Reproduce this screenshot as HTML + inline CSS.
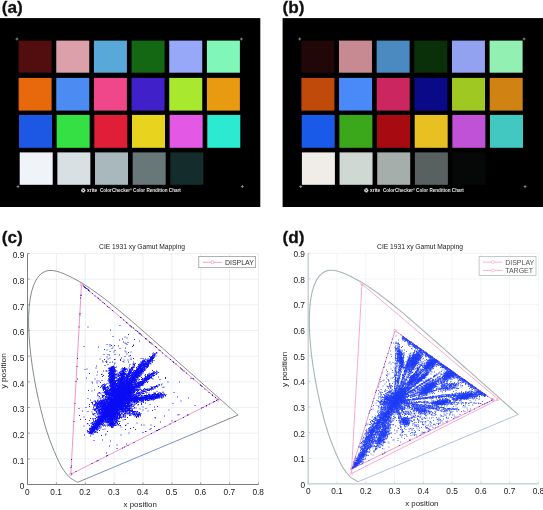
<!DOCTYPE html>
<html><head><meta charset="utf-8"><title>Figure</title>
<style>html,body{margin:0;padding:0;background:#fff}svg{display:block}</style></head>
<body>
<svg width="543" height="510" viewBox="0 0 543 510" font-family="Liberation Sans, sans-serif">
<rect width="543" height="510" fill="#fff"/>
<rect x="0" y="18.1" width="260.3" height="188.9" fill="#000"/>
<rect x="18.60" y="40.6" width="33" height="32.10" fill="#520e0e"/>
<rect x="56.26" y="40.6" width="33" height="32.10" fill="#dba0aa"/>
<rect x="93.92" y="40.6" width="33" height="32.10" fill="#58a8da"/>
<rect x="131.58" y="40.6" width="33" height="32.10" fill="#146814"/>
<rect x="169.24" y="40.6" width="33" height="32.10" fill="#98a8f8"/>
<rect x="206.90" y="40.6" width="33" height="32.10" fill="#80f6b8"/>
<rect x="18.60" y="77.9" width="33" height="32.70" fill="#e8680c"/>
<rect x="56.26" y="77.9" width="33" height="32.70" fill="#4c8cf2"/>
<rect x="93.92" y="77.9" width="33" height="32.70" fill="#f0468a"/>
<rect x="131.58" y="77.9" width="33" height="32.70" fill="#4020c8"/>
<rect x="169.24" y="77.9" width="33" height="32.70" fill="#a8e82e"/>
<rect x="206.90" y="77.9" width="33" height="32.70" fill="#e89a10"/>
<rect x="19.00" y="114.9" width="33" height="32.90" fill="#1c58e4"/>
<rect x="56.66" y="114.9" width="33" height="32.90" fill="#34e044"/>
<rect x="94.32" y="114.9" width="33" height="32.90" fill="#e01e38"/>
<rect x="131.98" y="114.9" width="33" height="32.90" fill="#e8d41e"/>
<rect x="169.64" y="114.9" width="33" height="32.90" fill="#e458e6"/>
<rect x="207.30" y="114.9" width="33" height="32.90" fill="#2cead2"/>
<rect x="19.70" y="152.4" width="33" height="32.40" fill="#f0f4f8"/>
<rect x="57.36" y="152.4" width="33" height="32.40" fill="#d8e0e4"/>
<rect x="95.02" y="152.4" width="33" height="32.40" fill="#a8b8bc"/>
<rect x="132.68" y="152.4" width="33" height="32.40" fill="#687878"/>
<rect x="170.34" y="152.4" width="33" height="32.40" fill="#152c2c"/>
<path d="M15.5 39h3M17.0 37.5v3" stroke="#a4b0b0" stroke-width="0.7"/>
<path d="M239.9 39h3M241.4 37.5v3" stroke="#a4b0b0" stroke-width="0.7"/>
<path d="M16.5 186.6h3M18.0 185.1v3" stroke="#a4b0b0" stroke-width="0.7"/>
<path d="M240.9 186.6h3M242.4 185.1v3" stroke="#a4b0b0" stroke-width="0.7"/>
<circle cx="83.3" cy="190.4" r="2.1" fill="#e8e8e8"/>
<path d="M82.1 189.2l2.4 2.4M84.5 189.2l-2.4 2.4" stroke="#000" stroke-width="0.6"/>
<text x="87.1" y="192.3" font-size="5" font-weight="bold" fill="#e6e6e6" textLength="10.2" lengthAdjust="spacingAndGlyphs">xrite</text>
<text x="99.9" y="192.3" font-size="5" font-weight="bold" fill="#e6e6e6" textLength="81" lengthAdjust="spacingAndGlyphs">ColorChecker<tspan font-size="2.6" dy="-1.8">®</tspan><tspan dy="1.8"> Color Rendition Chart</tspan></text>
<rect x="282.6" y="18.1" width="260.4" height="188.9" fill="#000"/>
<rect x="301.30" y="40.6" width="33" height="32.10" fill="#210707"/>
<rect x="338.96" y="40.6" width="33" height="32.10" fill="#c88a92"/>
<rect x="376.62" y="40.6" width="33" height="32.10" fill="#4a8ac0"/>
<rect x="414.28" y="40.6" width="33" height="32.10" fill="#0a300a"/>
<rect x="451.94" y="40.6" width="33" height="32.10" fill="#92a2f0"/>
<rect x="489.60" y="40.6" width="33" height="32.10" fill="#92f0b2"/>
<rect x="301.40" y="77.9" width="33" height="32.70" fill="#c04a0a"/>
<rect x="339.06" y="77.9" width="33" height="32.70" fill="#4a8af8"/>
<rect x="376.72" y="77.9" width="33" height="32.70" fill="#cc2660"/>
<rect x="414.38" y="77.9" width="33" height="32.70" fill="#0a0a88"/>
<rect x="452.04" y="77.9" width="33" height="32.70" fill="#a0c822"/>
<rect x="489.70" y="77.9" width="33" height="32.70" fill="#d08212"/>
<rect x="301.70" y="114.9" width="33" height="32.90" fill="#1a5ae8"/>
<rect x="339.36" y="114.9" width="33" height="32.90" fill="#3aa81a"/>
<rect x="377.02" y="114.9" width="33" height="32.90" fill="#a80a12"/>
<rect x="414.68" y="114.9" width="33" height="32.90" fill="#e8c022"/>
<rect x="452.34" y="114.9" width="33" height="32.90" fill="#c052d8"/>
<rect x="490.00" y="114.9" width="33" height="32.90" fill="#42c8c0"/>
<rect x="301.90" y="152.4" width="33" height="32.40" fill="#f0ece8"/>
<rect x="339.56" y="152.4" width="33" height="32.40" fill="#d0d8d4"/>
<rect x="377.22" y="152.4" width="33" height="32.40" fill="#a6aeac"/>
<rect x="414.88" y="152.4" width="33" height="32.40" fill="#586060"/>
<rect x="452.54" y="152.4" width="33" height="32.40" fill="#060707"/>
<path d="M298.2 39h3M299.7 37.5v3" stroke="#a4b0b0" stroke-width="0.7"/>
<path d="M522.6 39h3M524.1 37.5v3" stroke="#a4b0b0" stroke-width="0.7"/>
<path d="M299.2 186.6h3M300.7 185.1v3" stroke="#a4b0b0" stroke-width="0.7"/>
<path d="M523.6 186.6h3M525.1 185.1v3" stroke="#a4b0b0" stroke-width="0.7"/>
<circle cx="366.3" cy="190.4" r="2.1" fill="#e8e8e8"/>
<path d="M365.1 189.2l2.4 2.4M367.5 189.2l-2.4 2.4" stroke="#000" stroke-width="0.6"/>
<text x="370.1" y="192.3" font-size="5" font-weight="bold" fill="#e6e6e6" textLength="10.2" lengthAdjust="spacingAndGlyphs">xrite</text>
<text x="382.9" y="192.3" font-size="5" font-weight="bold" fill="#e6e6e6" textLength="81" lengthAdjust="spacingAndGlyphs">ColorChecker<tspan font-size="2.6" dy="-1.8">®</tspan><tspan dy="1.8"> Color Rendition Chart</tspan></text>
<text x="1.8" y="12.5" font-size="17.2" font-weight="bold" fill="#111" stroke="#111" stroke-width="0.3">(a)</text>
<text x="282.5" y="12.5" font-size="17.2" font-weight="bold" fill="#111" stroke="#111" stroke-width="0.3">(b)</text>
<text x="1.8" y="243.0" font-size="17.2" font-weight="bold" fill="#111" stroke="#111" stroke-width="0.3">(c)</text>
<text x="282.5" y="243.0" font-size="17.2" font-weight="bold" fill="#111" stroke="#111" stroke-width="0.3">(d)</text>
<path d="M56.38 253.5V484.5" stroke="#e8ebf3" stroke-width="0.8"/>
<path d="M85.25 253.5V484.5" stroke="#e8ebf3" stroke-width="0.8"/>
<path d="M114.12 253.5V484.5" stroke="#e8ebf3" stroke-width="0.8"/>
<path d="M143.00 253.5V484.5" stroke="#e8ebf3" stroke-width="0.8"/>
<path d="M171.88 253.5V484.5" stroke="#e8ebf3" stroke-width="0.8"/>
<path d="M200.75 253.5V484.5" stroke="#e8ebf3" stroke-width="0.8"/>
<path d="M229.62 253.5V484.5" stroke="#e8ebf3" stroke-width="0.8"/>
<path d="M258.50 253.5V484.5" stroke="#e8ebf3" stroke-width="0.8"/>
<path d="M27.5 458.83H258.5" stroke="#e8ebf3" stroke-width="0.8"/>
<path d="M27.5 433.17H258.5" stroke="#e8ebf3" stroke-width="0.8"/>
<path d="M27.5 407.50H258.5" stroke="#e8ebf3" stroke-width="0.8"/>
<path d="M27.5 381.83H258.5" stroke="#e8ebf3" stroke-width="0.8"/>
<path d="M27.5 356.17H258.5" stroke="#e8ebf3" stroke-width="0.8"/>
<path d="M27.5 330.50H258.5" stroke="#e8ebf3" stroke-width="0.8"/>
<path d="M27.5 304.83H258.5" stroke="#e8ebf3" stroke-width="0.8"/>
<path d="M27.5 279.17H258.5" stroke="#e8ebf3" stroke-width="0.8"/>
<path d="M27.5 253.50H258.5" stroke="#e8ebf3" stroke-width="0.8"/>
<path d="M27.5 253.5V484.5H258.5" fill="none" stroke="#7a8084" stroke-width="1.0"/>
<path d="M27.50 484.5v-2.2" stroke="#7a8084" stroke-width="0.7"/>
<path d="M56.38 484.5v-2.2" stroke="#7a8084" stroke-width="0.7"/>
<path d="M85.25 484.5v-2.2" stroke="#7a8084" stroke-width="0.7"/>
<path d="M114.12 484.5v-2.2" stroke="#7a8084" stroke-width="0.7"/>
<path d="M143.00 484.5v-2.2" stroke="#7a8084" stroke-width="0.7"/>
<path d="M171.88 484.5v-2.2" stroke="#7a8084" stroke-width="0.7"/>
<path d="M200.75 484.5v-2.2" stroke="#7a8084" stroke-width="0.7"/>
<path d="M229.62 484.5v-2.2" stroke="#7a8084" stroke-width="0.7"/>
<path d="M258.50 484.5v-2.2" stroke="#7a8084" stroke-width="0.7"/>
<path d="M27.5 484.50h2.2" stroke="#7a8084" stroke-width="0.7"/>
<path d="M27.5 458.83h2.2" stroke="#7a8084" stroke-width="0.7"/>
<path d="M27.5 433.17h2.2" stroke="#7a8084" stroke-width="0.7"/>
<path d="M27.5 407.50h2.2" stroke="#7a8084" stroke-width="0.7"/>
<path d="M27.5 381.83h2.2" stroke="#7a8084" stroke-width="0.7"/>
<path d="M27.5 356.17h2.2" stroke="#7a8084" stroke-width="0.7"/>
<path d="M27.5 330.50h2.2" stroke="#7a8084" stroke-width="0.7"/>
<path d="M27.5 304.83h2.2" stroke="#7a8084" stroke-width="0.7"/>
<path d="M27.5 279.17h2.2" stroke="#7a8084" stroke-width="0.7"/>
<path d="M27.5 253.50h2.2" stroke="#7a8084" stroke-width="0.7"/>
<polyline points="78.32,482.06 78.22,482.07 78.13,482.08 78.03,482.09 77.93,482.09 77.84,482.09 77.74,482.09 77.65,482.08 77.55,482.07 77.45,482.06 77.35,482.05 77.22,482.03 77.05,481.98 76.84,481.90 76.58,481.77 76.27,481.63 75.92,481.45 75.49,481.22 74.97,480.91 74.33,480.48 73.58,479.99 72.72,479.50 71.75,478.98 70.58,478.21 69.08,476.88 67.21,474.80 65.20,472.26 63.33,469.66 61.81,467.29 60.49,464.92 59.15,462.22 57.59,458.92 55.82,454.99 53.86,450.44 51.77,445.30 49.58,439.50 47.34,432.99 45.09,425.69 42.85,417.62 40.61,408.78 38.39,399.23 36.26,389.10 34.29,378.57 32.53,367.81 31.04,357.00 29.87,346.31 29.05,335.92 28.62,325.94 28.63,316.43 29.10,307.52 30.05,299.31 31.51,291.95 33.48,285.56 35.91,280.24 38.73,276.09 41.90,273.14 45.33,271.32 48.95,270.49 52.71,270.52 56.57,271.23 60.48,272.44 64.41,273.98 68.32,275.74 72.17,277.65 75.92,279.65 79.59,281.73 83.20,283.89 86.76,286.14 90.29,288.48 93.80,290.90 97.29,293.39 100.78,295.96 104.25,298.60 107.71,301.29 111.15,304.03 114.59,306.81 118.02,309.63 121.46,312.49 124.90,315.38 128.34,318.30 131.79,321.25 135.23,324.21 138.67,327.19 142.09,330.18 145.51,333.17 148.93,336.16 152.34,339.15 155.73,342.13 159.10,345.10 162.44,348.05 165.75,350.98 169.03,353.89 172.28,356.76 175.48,359.61 178.64,362.41 181.76,365.17 184.81,367.87 187.81,370.51 190.73,373.10 193.59,375.62 196.36,378.08 199.03,380.46 201.59,382.73 204.01,384.88 206.33,386.93 208.55,388.89 210.69,390.79 212.73,392.60 214.67,394.31 216.48,395.90 218.17,397.38 219.75,398.77 221.23,400.08 222.60,401.30 223.88,402.44 225.06,403.50 226.16,404.47 227.17,405.37 228.11,406.20 228.99,406.97 229.80,407.68 230.55,408.34 231.25,408.97 231.91,409.55 232.53,410.11 233.12,410.63 233.67,411.12 234.18,411.58 234.66,412.01 235.11,412.40 235.53,412.77 235.92,413.10 236.27,413.40 236.57,413.68 236.85,413.93 237.13,414.17 237.43,414.42 237.76,414.69 238.14,414.99" fill="none" stroke="#757e7c" stroke-width="0.9"/>
<defs><linearGradient id="pg" x1="0" y1="0" x2="1" y2="0"><stop offset="0" stop-color="#747c7c"/><stop offset="0.1" stop-color="#6a86cc"/><stop offset="0.55" stop-color="#6a86cc"/><stop offset="0.85" stop-color="#747c7c"/><stop offset="1" stop-color="#747c7c"/></linearGradient></defs>
<path d="M78.32 482.06L238.14 414.99" stroke="url(#pg)" stroke-width="0.9"/>
<polygon points="81.50,284.30 218.08,399.80 70.81,474.23" fill="none" stroke="#f58ab6" stroke-width="0.9"/>
<circle cx="81.50" cy="284.30" r="1.4" fill="none" stroke="#f58ab6" stroke-width="0.6"/>
<circle cx="218.08" cy="399.80" r="1.4" fill="none" stroke="#f58ab6" stroke-width="0.6"/>
<circle cx="70.81" cy="474.23" r="1.4" fill="none" stroke="#f58ab6" stroke-width="0.6"/>
<path transform="scale(.5)" d="m168 574h2m0 2h2m4 4h2m-2 1h2m11 11h2m4 4h2m-1 1h2m1 3h2m7 7h2m7 8h2m-60 15h2m80 5h2m3 5h2m4 5h2m-1 1h2m-16 5h2m20 2h2m-106 1h2m16 0h2m89 2h2m-48 4h2m49 1h2m1 2h2m1 3h2m0 1h2m9 10h2m-24 2h2m8 3h2m-25 3h2m42 0h2m0 1h2m0 2h2m-52 1h2m11 1h2m-49 2h2m-25 2h2m27 0h2m85 1h2m-64 1h2m-29 1h2m14 0h2m-28 3h2m102 0h2m-92 4h2m27 1h2m54 0h2m-8 1h2m5 0h2m-62 2h2m53 0h2m-103 1h2m6 0h2m12 0h2m77 0h2m-72 1h2m66 0h2m-4 1h2m-49 1h2m72 0h2m-84 1h2m47 0h2m3 0h3m1 0h2m-96 1h2m87 0h3m3 0h2m-10 1h3m3 0h3m-90 1h2m40 0h2m37 0h3m3 0h2m-154 1h2m110 0h2m13 0h2m2 0h2m18 0h2m-92 1h2m82 0h3m-94 1h2m18 0h3m30 0h2m28 0h2m7 0h2m2 0h2m34 0h2m-87 1h2m45 0h2m-16 1h2m4 0h5m5 0h2m1 0h2m-105 1h2m6 0h2m70 0h2m3 0h2m1 0h5m-12 1h6m3 0h2m1 0h5m43 0h2m-142 1h2m6 0h2m9 0h2m21 0h2m7 0h2m26 0h3m2 0h4m3 0h6m1 0h3m-94 1h2m5 0h2m62 0h3m9 0h2m-68 1h2m52 0h6m2 0h2m3 0h2m-15 1h2m4 0h7m1 0h2m-71 1h2m37 0h2m12 0h2m1 0h4m4 0h7m-84 1h2m50 0h3m9 0h5m1 0h3m1 0h2m1 0h6m-31 1h2m8 0h8m3 0h9m-18 1h9m1 0h2m3 0h4m-106 1h2m32 0h2m30 0h2m18 0h3m6 0h3m4 0h4m-145 1h2m72 0h2m46 0h4m1 0h5m3 0h9m-76 1h2m9 0h2m31 0h4m6 0h8m1 0h6m2 0h2m-72 1h4m3 0h2m32 0h3m6 0h2m4 0h3m5 0h3m4 0h3m-105 1h2m24 0h2m3 0h2m1 0h4m19 0h2m12 0h3m12 0h2m1 0h2m1 0h4m5 0h2m66 0h2m-145 1h5m6 0h2m13 0h2m28 0h6m1 0h2m2 0h2m2 0h3m-73 1h2m2 0h2m2 0h2m18 0h9m4 0h8m7 0h4m1 0h3m2 0h6m72 0h2m-195 1h2m52 0h3m2 0h2m15 0h2m2 0h2m10 0h2m9 0h6m3 0h5m3 0h2m-74 1h2m1 0h2m1 0h4m3 0h2m11 0h3m3 0h2m3 0h2m2 0h2m1 0h2m1 0h2m7 0h2m1 0h5m1 0h3m1 0h3m1 0h2m-74 1h4m2 0h3m18 0h4m12 0h2m2 0h2m1 0h7m4 0h6m19 0h2m-100 1h2m3 0h2m8 0h2m2 0h2m16 0h4m3 0h2m3 0h2m1 0h5m9 0h13m27 0h2m53 0h2m-150 1h2m1 0h2m1 0h2m1 0h3m13 0h4m3 0h2m4 0h6m3 0h2m2 0h2m1 0h13m21 0h2m-92 1h2m2 0h2m1 0h3m12 0h2m10 0h2m8 0h2m8 0h7m29 0h2m-90 1h8m2 0h2m7 0h2m6 0h4m7 0h5m1 0h3m2 0h3m1 0h11m27 0h2m4 0h2m-101 1h2m4 0h6m6 0h2m4 0h5m2 0h2m6 0h2m1 0h6m5 0h11m24 0h2m1 0h2m62 0h2m-196 1h2m38 0h2m1 0h5m1 0h2m4 0h2m5 0h13m2 0h2m3 0h2m4 0h2m2 0h2m3 0h2m1 0h2m3 0h2m17 0h2m3 0h2m-89 1h8m12 0h3m2 0h6m7 0h2m4 0h11m1 0h3m1 0h2m30 0h2m-112 1h2m14 0h14m8 0h11m1 0h3m1 0h2m1 0h2m3 0h4m2 0h5m1 0h3m16 0h2m2 0h5m-111 1h2m25 0h10m1 0h2m2 0h2m7 0h2m1 0h3m5 0h4m8 0h4m1 0h2m2 0h3m1 0h2m12 0h2m1 0h3m3 0h2m-87 1h2m2 0h7m8 0h10m5 0h2m3 0h2m1 0h2m2 0h2m2 0h5m2 0h4m10 0h2m3 0h7m2 0h7m-88 1h6m13 0h6m1 0h2m1 0h8m4 0h2m2 0h7m20 0h2m2 0h3m-97 1h2m14 0h8m1 0h2m6 0h2m3 0h5m1 0h2m3 0h7m3 0h6m1 0h2m1 0h2m15 0h3m3 0h4m5 0h2m-87 1h5m3 0h2m12 0h9m1 0h5m2 0h2m3 0h5m2 0h2m1 0h3m13 0h6m3 0h2m1 0h2m12 0h2m-98 1h2m2 0h3m1 0h2m1 0h2m9 0h5m5 0h2m6 0h7m2 0h2m11 0h2m5 0h2m2 0h4m1 0h2m2 0h2m-80 1h4m1 0h2m1 0h2m4 0h2m1 0h5m4 0h2m2 0h3m8 0h2m3 0h4m16 0h2m3 0h4m2 0h2m-84 1h2m1 0h9m8 0h11m3 0h4m1 0h4m3 0h5m15 0h2m1 0h9m1 0h2m85 0h2m-233 1h2m60 0h13m4 0h3m3 0h6m1 0h3m1 0h4m4 0h2m2 0h7m1 0h2m2 0h2m9 0h2m1 0h4m1 0h4m-79 1h2m1 0h5m1 0h2m7 0h7m1 0h3m7 0h3m5 0h3m4 0h3m11 0h2m2 0h9m-73 1h4m1 0h2m6 0h11m1 0h2m2 0h3m1 0h13m2 0h3m11 0h4m5 0h2m-93 1h2m10 0h2m1 0h7m1 0h5m1 0h2m2 0h2m2 0h4m3 0h5m1 0h3m2 0h5m1 0h3m1 0h5m12 0h2m-94 1h2m2 0h2m18 0h2m4 0h4m1 0h7m1 0h13m3 0h3m1 0h14m1 0h4m11 0h6m-75 1h2m2 0h2m1 0h3m2 0h4m3 0h2m3 0h4m1 0h4m3 0h8m3 0h2m6 0h2m5 0h7m1 0h2m3 0h2m1 0h2m-79 1h2m1 0h4m2 0h2m5 0h2m1 0h7m1 0h2m3 0h2m1 0h2m1 0h4m1 0h5m10 0h2m4 0h2m1 0h3m47 0h2m-118 1h5m3 0h5m5 0h9m1 0h3m6 0h5m1 0h9m3 0h5m2 0h2m1 0h3m3 0h2m2 0h2m-103 1h2m22 0h2m1 0h4m1 0h2m4 0h2m3 0h5m2 0h2m1 0h5m2 0h3m1 0h6m3 0h2m6 0h2m1 0h12m-76 1h2m6 0h2m1 0h2m2 0h10m2 0h11m1 0h6m1 0h5m5 0h2m4 0h2m2 0h4m-66 1h2m1 0h4m2 0h2m1 0h2m1 0h2m7 0h2m1 0h16m1 0h4m5 0h2m1 0h2m1 0h4m2 0h4m1 0h2m34 0h2m-120 1h4m15 0h6m7 0h7m2 0h3m1 0h2m2 0h4m1 0h9m1 0h5m1 0h3m4 0h4m-76 1h2m8 0h8m3 0h12m1 0h19m1 0h2m11 0h2m39 0h2m2 0h2m-121 1h3m2 0h2m9 0h2m1 0h2m1 0h4m2 0h2m1 0h5m3 0h2m1 0h5m1 0h15m5 0h6m1 0h4m3 0h2m114 0h2m-199 1h3m1 0h2m9 0h9m2 0h2m2 0h7m1 0h4m3 0h12m2 0h2m1 0h2m1 0h4m1 0h4m34 0h2m-118 1h2m8 0h2m6 0h2m9 0h4m1 0h3m4 0h4m3 0h17m1 0h7m2 0h7m23 0h2m7 0h4m89 0h2m-200 1h2m1 0h3m5 0h2m5 0h4m3 0h3m1 0h17m3 0h7m4 0h3m1 0h2m2 0h3m2 0h3m24 0h2m2 0h3m15 0h2m-129 1h2m3 0h3m1 0h2m1 0h2m8 0h10m2 0h3m2 0h21m1 0h2m1 0h11m2 0h2m23 0h2m4 0h2m-105 1h5m1 0h3m6 0h5m1 0h5m2 0h2m1 0h2m1 0h5m1 0h10m1 0h2m1 0h5m1 0h2m2 0h2m2 0h2m2 0h3m22 0h2m-99 1h2m2 0h3m4 0h2m5 0h7m2 0h13m1 0h16m1 0h2m1 0h2m20 0h2m12 0h3m-99 1h4m9 0h3m1 0h2m1 0h37m1 0h5m1 0h3m1 0h2m4 0h2m9 0h2m12 0h3m-102 1h2m1 0h4m1 0h2m4 0h5m1 0h6m1 0h9m1 0h7m1 0h3m1 0h16m3 0h2m3 0h2m5 0h2m2 0h2m1 0h3m2 0h4m-90 1h2m6 0h13m1 0h3m1 0h15m1 0h4m1 0h7m1 0h3m3 0h2m1 0h2m17 0h2m5 0h2m-98 1h2m5 0h2m3 0h4m1 0h23m2 0h13m1 0h9m4 0h2m8 0h2m7 0h4m-87 1h3m2 0h5m1 0h14m1 0h18m2 0h7m4 0h3m13 0h2m1 0h2m2 0h2m-85 1h4m7 0h2m1 0h26m2 0h2m1 0h12m3 0h3m-59 1h7m5 0h14m2 0h4m2 0h9m1 0h9m1 0h2m12 0h2m8 0h2m-94 1h2m5 0h2m1 0h9m2 0h3m1 0h5m1 0h6m1 0h4m1 0h23m4 0h2m7 0h3m13 0h2m24 0h2m4 0h2m90 0h2m-212 1h2m1 0h2m3 0h6m2 0h25m1 0h9m2 0h3m2 0h2m6 0h5m5 0h3m11 0h2m20 0h2m-122 1h2m9 0h6m3 0h7m2 0h37m10 0h4m8 0h2m19 0h4m15 0h2m-120 1h2m3 0h43m1 0h7m11 0h2m1 0h2m11 0h2m22 0h2m1 0h4m-110 1h7m1 0h8m3 0h27m1 0h2m1 0h2m2 0h3m9 0h2m23 0h5m1 0h2m2 0h2m3 0h4m5 0h2m1 0h2m-130 1h2m10 0h4m2 0h10m2 0h29m9 0h2m2 0h4m17 0h2m5 0h7m2 0h4m7 0h5m-124 1h2m1 0h2m8 0h2m1 0h11m1 0h33m1 0h2m3 0h2m3 0h4m2 0h2m5 0h7m2 0h2m7 0h2m7 0h4m1 0h2m7 0h2m-126 1h2m5 0h2m3 0h2m3 0h34m1 0h5m1 0h5m1 0h3m8 0h2m1 0h2m1 0h2m4 0h4m4 0h3m3 0h4m1 0h8m1 0h4m-115 1h2m5 0h2m3 0h9m1 0h21m3 0h3m3 0h5m1 0h3m1 0h2m7 0h2m6 0h2m2 0h2m2 0h15m7 0h2m4 0h2m-122 1h2m3 0h2m5 0h3m2 0h33m1 0h3m2 0h2m7 0h9m3 0h5m3 0h3m1 0h4m2 0h6m1 0h8m1 0h4m2 0h2m30 0h2m-143 1h2m1 0h7m5 0h26m1 0h4m4 0h2m1 0h4m3 0h2m4 0h4m2 0h9m4 0h2m3 0h5m2 0h4m8 0h3m105 0h2m-231 1h2m4 0h2m1 0h2m4 0h2m2 0h4m2 0h28m1 0h2m1 0h6m3 0h7m1 0h9m4 0h3m1 0h2m1 0h11m1 0h6m2 0h2m1 0h2m-105 1h6m2 0h33m1 0h14m1 0h2m1 0h2m1 0h7m3 0h10m2 0h6m7 0h2m-115 1h2m7 0h3m2 0h2m2 0h56m2 0h4m2 0h2m1 0h5m8 0h2m1 0h2m6 0h2m-102 1h4m1 0h7m2 0h2m1 0h30m2 0h6m1 0h2m2 0h6m1 0h2m1 0h2m3 0h2m4 0h7m5 0h2m3 0h2m126 0h2m-257 1h2m13 0h2m6 0h3m10 0h32m1 0h13m1 0h20m1 0h4m2 0h6m2 0h2m-111 1h2m9 0h2m1 0h2m1 0h5m2 0h2m2 0h2m1 0h4m1 0h28m1 0h14m1 0h2m2 0h3m2 0h3m3 0h4m6 0h4m134 0h2m-240 1h3m16 0h2m3 0h45m3 0h2m4 0h4m5 0h4m1 0h2m73 0h2m-176 1h2m9 0h2m4 0h2m1 0h2m3 0h5m1 0h2m1 0h23m1 0h2m1 0h12m2 0h2m2 0h8m11 0h2m-94 1h4m10 0h11m2 0h35m3 0h3m3 0h6m4 0h2m3 0h2m145 0h2m-246 1h2m7 0h2m6 0h2m1 0h4m1 0h2m1 0h2m3 0h44m9 0h2m1 0h2m-77 1h2m2 0h2m4 0h8m1 0h24m1 0h8m1 0h3m1 0h3m3 0h3m28 0h2m-143 1h2m33 0h2m5 0h8m1 0h3m1 0h6m1 0h8m4 0h18m2 0h4m2 0h12m10 0h2m9 0h2m61 0h2m-163 1h2m4 0h3m2 0h6m1 0h9m1 0h4m1 0h32m3 0h3m2 0h3m1 0h2m-85 1h2m7 0h4m2 0h4m1 0h3m5 0h6m4 0h25m1 0h4m1 0h3m5 0h4m5 0h2m10 0h2m4 0h2m-89 1h5m1 0h2m5 0h4m1 0h21m2 0h11m7 0h2m6 0h2m2 0h4m5 0h2m-89 1h2m3 0h3m5 0h2m3 0h2m1 0h34m1 0h15m130 0h2m-203 1h2m1 0h2m4 0h2m2 0h2m7 0h30m1 0h9m1 0h2m4 0h4m-83 1h2m13 0h2m1 0h2m1 0h5m2 0h5m1 0h31m1 0h5m2 0h8m6 0h2m47 0h2m-121 1h3m1 0h2m2 0h3m1 0h3m2 0h33m5 0h3m4 0h4m24 0h2m-95 1h3m8 0h2m2 0h2m1 0h32m1 0h2m1 0h2m2 0h2m1 0h2m13 0h2m135 0h2m-215 1h2m2 0h4m1 0h2m1 0h22m1 0h8m2 0h4m2 0h14m3 0h3m8 0h2m-116 1h2m30 0h2m2 0h3m6 0h27m2 0h3m3 0h11m3 0h10m6 0h2m22 0h2m-103 1h2m13 0h2m3 0h4m1 0h8m1 0h5m3 0h4m1 0h3m3 0h2m2 0h2m8 0h3m1 0h2m1 0h2m-81 1h2m9 0h2m1 0h2m1 0h2m2 0h10m3 0h28m1 0h4m1 0h2m1 0h3m-70 1h11m1 0h2m2 0h20m1 0h14m2 0h2m1 0h4m2 0h2m2 0h3m6 0h2m-68 1h2m4 0h2m1 0h5m1 0h15m1 0h5m1 0h4m5 0h2m3 0h3m1 0h10m1 0h2m38 0h2m-109 1h2m2 0h2m3 0h31m2 0h2m2 0h7m5 0h2m1 0h3m1 0h4m29 0h2m-105 1h2m3 0h2m2 0h2m1 0h2m1 0h18m1 0h5m1 0h4m3 0h2m4 0h3m5 0h2m4 0h2m3 0h7m3 0h2m-93 1h2m11 0h2m8 0h2m1 0h19m1 0h8m1 0h2m2 0h7m1 0h4m10 0h4m5 0h2m-83 1h2m4 0h9m1 0h15m1 0h11m2 0h2m12 0h2m14 0h2m8 0h3m-82 1h2m2 0h36m11 0h2m3 0h2m1 0h2m6 0h9m-77 1h2m1 0h4m1 0h6m1 0h7m1 0h15m2 0h3m8 0h5m2 0h2m4 0h2m5 0h2m3 0h2m2 0h2m2 0h2m-89 1h2m1 0h6m3 0h21m1 0h4m4 0h2m11 0h2m4 0h2m7 0h2m2 0h2m2 0h2m4 0h2m-94 1h2m13 0h19m1 0h12m1 0h8m4 0h2m11 0h2m5 0h2m6 0h7m-82 1h2m3 0h6m1 0h11m1 0h13m2 0h2m3 0h2m1 0h4m19 0h4m1 0h2m99 0h2m-173 1h11m1 0h3m2 0h6m2 0h3m2 0h3m1 0h3m33 0h2m-75 1h6m2 0h2m1 0h17m5 0h2m1 0h5m4 0h2m2 0h2m22 0h2m-79 1h4m1 0h9m1 0h22m4 0h2m1 0h2m2 0h3m24 0h2m2 0h2m-111 1h2m26 0h2m4 0h8m1 0h4m1 0h7m1 0h6m1 0h2m2 0h2m1 0h2m9 0h4m20 0h2m2 0h2m-86 1h2m2 0h3m4 0h13m2 0h6m1 0h5m2 0h3m3 0h2m2 0h2m1 0h2m-50 1h2m2 0h3m8 0h4m1 0h7m1 0h2m7 0h2m74 0h2m-132 1h2m3 0h2m10 0h8m3 0h5m1 0h7m2 0h3m3 0h2m1 0h2m2 0h4m-55 1h2m3 0h2m5 0h2m2 0h10m3 0h19m4 0h2m-79 1h2m32 0h6m2 0h7m3 0h4m1 0h2m2 0h5m3 0h4m16 0h2m-59 1h3m2 0h2m1 0h6m1 0h2m1 0h8m2 0h7m1 0h2m1 0h3m1 0h2m-47 1h3m4 0h6m1 0h3m3 0h2m1 0h2m2 0h5m2 0h2m5 0h2m1 0h2m-46 1h14m2 0h2m2 0h2m2 0h5m1 0h10m-83 1h2m38 0h2m1 0h5m1 0h11m2 0h7m4 0h7m2 0h2m2 0h2m2 0h2m-51 1h2m2 0h7m3 0h4m10 0h2m2 0h8m3 0h2m-41 1h9m2 0h4m7 0h5m1 0h8m2 0h2m1 0h2m-51 1h2m1 0h2m3 0h2m2 0h7m2 0h2m11 0h5m2 0h4m44 0h2m-94 1h2m6 0h12m5 0h2m12 0h8m27 0h2m-82 1h2m7 0h3m3 0h6m3 0h2m5 0h2m9 0h8m114 0h2m-155 1h2m2 0h11m2 0h3m11 0h2m1 0h2m1 0h5m8 0h2m-49 1h9m2 0h2m2 0h2m3 0h2m9 0h3m4 0h3m6 0h2m44 0h2m-106 1h2m7 0h3m2 0h2m1 0h3m9 0h2m11 0h2m2 0h2m1 0h3m9 0h2m-55 1h7m4 0h3m10 0h2m2 0h2m2 0h2m2 0h5m-44 1h2m2 0h8m2 0h3m25 0h2m-46 1h2m1 0h9m1 0h3m1 0h2m41 0h2m-59 1h7m2 0h2m29 0h2m40 0h2m-89 1h2m5 0h4m1 0h3m7 0h2m-23 1h15m2 0h2m-17 1h2m1 0h11m13 0h2m-30 1h2m1 0h6m1 0h2m2 0h2m8 0h2m43 0h2m18 0h2m45 0h2m-139 1h5m1 0h5m-17 1h2m5 0h6m-8 1h3m3 0h5m2 0h3m-19 1h3m1 0h2m3 0h4m1 0h2m98 0h2m-118 1h2m3 0h4m6 0h2m-12 1h5m7 0h2m-15 1h3m3 0h2m71 0h2m-82 1h2m3 0h2m1 0h2m-6 1h3m26 2h2m29 0h2m-23 12h2m11 8h2m-17 2h2m24 4h2m-13 1h2m-23 9h2m-2 6h2m-19 9h2m-46 22h2" stroke="#0a0cf4" stroke-opacity="0.9" stroke-width="2" fill="none"/>
<path transform="scale(.5)" d="m166 572h2m0 2h2m0 1h2m0 2h2m0 1h2m0 2h2m0 2h2m4 5h2m-25 3h2m-2 1h2m-3 5h2m43 9h2m7 8h2m8 8h2m-67 6h2m79 8h2m17 16h2m1 3h2m15 14h2m-25 1h2m24 1h2m-59 3h2m22 1h2m2 2h2m-11 2h2m45 0h3m-56 2h2m6 4h2m50 0h2m-51 2h2m0 1h2m-40 2h2m4 0h2m1 2h2m4 0h2m36 0h2m-32 1h2m-71 1h2m95 0h2m44 0h2m-104 6h2m19 2h2m88 0h2m-72 1h2m-32 1h2m30 1h2m8 0h2m49 2h2m10 0h2m-17 1h2m-7 1h2m3 0h3m-94 2h2m86 0h5m-51 1h2m45 0h3m-5 1h3m3 0h2m-10 1h2m-5 1h5m-4 1h5m-64 1h2m58 0h5m-6 1h6m-108 1h2m89 0h2m3 0h3m2 0h2m2 0h2m-66 1h2m45 0h2m10 0h2m1 0h3m-58 1h2m45 0h2m1 0h6m-63 1h2m43 0h3m6 0h8m1 0h2m-10 1h2m1 0h5m-92 1h2m32 0h2m40 0h2m1 0h2m3 0h8m-37 1h2m12 0h7m3 0h2m5 0h2m5 0h2m-21 1h2m6 0h2m1 0h3m47 0h2m-67 1h4m4 0h8m1 0h2m-30 1h2m14 0h4m10 0h2m-37 1h4m9 0h2m1 0h8m3 0h4m5 0h2m48 0h2m-94 1h2m6 0h2m7 0h2m2 0h2m5 0h4m2 0h2m1 0h2m-18 1h2m7 0h4m3 0h2m-89 1h2m57 0h2m9 0h3m5 0h2m4 0h2m-30 1h2m9 0h2m1 0h5m3 0h2m-66 1h5m49 0h7m3 0h2m1 0h4m-28 1h4m6 0h5m2 0h3m1 0h2m-68 1h7m1 0h2m17 0h2m13 0h4m12 0h2m4 0h3m1 0h2m-73 1h2m1 0h4m19 0h2m3 0h2m6 0h2m3 0h2m9 0h2m1 0h2m3 0h6m1 0h3m-74 1h2m3 0h8m16 0h4m1 0h2m9 0h3m13 0h2m2 0h3m-112 1h2m44 0h2m2 0h4m1 0h2m18 0h2m14 0h2m8 0h4m6 0h5m-69 1h6m2 0h2m17 0h6m5 0h3m3 0h2m13 0h3m3 0h2m-69 1h13m10 0h2m3 0h4m22 0h6m1 0h6m79 0h2m-149 1h2m1 0h7m1 0h2m1 0h2m14 0h2m9 0h2m14 0h4m1 0h7m2 0h2m-78 1h3m5 0h2m1 0h3m7 0h2m9 0h6m8 0h6m5 0h4m1 0h2m5 0h7m-68 1h2m1 0h9m9 0h7m29 0h5m4 0h2m-94 1h2m25 0h8m11 0h2m3 0h3m11 0h3m6 0h6m1 0h6m2 0h4m20 0h2m3 0h4m-98 1h7m1 0h2m17 0h4m10 0h4m2 0h13m1 0h5m21 0h2m-87 1h7m11 0h2m1 0h4m1 0h3m7 0h7m2 0h2m3 0h8m1 0h5m1 0h2m12 0h2m5 0h2m3 0h2m-97 1h2m4 0h5m1 0h2m10 0h11m4 0h5m8 0h9m1 0h2m17 0h2m4 0h7m3 0h2m-94 1h3m1 0h3m1 0h3m5 0h3m1 0h2m1 0h5m6 0h5m3 0h6m4 0h3m1 0h7m17 0h2m2 0h4m-106 1h2m13 0h8m2 0h2m1 0h4m1 0h2m2 0h2m1 0h3m1 0h5m6 0h2m2 0h2m2 0h11m13 0h2m8 0h3m2 0h2m4 0h2m-92 1h2m17 0h2m2 0h4m7 0h3m6 0h13m5 0h2m11 0h2m3 0h2m1 0h4m-101 1h2m9 0h3m1 0h6m2 0h2m2 0h2m2 0h4m2 0h2m9 0h2m3 0h5m4 0h5m1 0h7m14 0h4m-82 1h4m1 0h8m6 0h2m2 0h9m2 0h2m2 0h3m5 0h9m1 0h2m1 0h2m17 0h6m-85 1h2m3 0h2m2 0h3m7 0h3m4 0h8m3 0h6m3 0h14m1 0h4m13 0h3m1 0h2m2 0h2m-86 1h2m2 0h3m2 0h3m1 0h4m7 0h6m6 0h5m1 0h2m5 0h4m2 0h4m14 0h2m1 0h2m5 0h2m-85 1h2m1 0h2m1 0h2m1 0h2m2 0h2m5 0h2m1 0h3m1 0h3m1 0h7m4 0h2m1 0h7m1 0h5m21 0h6m27 0h2m-160 1h2m45 0h8m1 0h2m9 0h3m6 0h4m1 0h5m4 0h2m1 0h2m2 0h3m1 0h4m15 0h4m2 0h3m-79 1h2m3 0h3m6 0h2m1 0h6m1 0h2m6 0h2m5 0h2m1 0h5m15 0h2m2 0h4m2 0h6m3 0h2m25 0h2m49 0h2m-194 1h2m25 0h3m2 0h9m5 0h3m3 0h4m1 0h4m1 0h3m1 0h4m1 0h5m4 0h2m4 0h2m11 0h2m1 0h3m1 0h4m6 0h2m79 0h2m-169 1h5m17 0h4m2 0h4m1 0h3m4 0h2m1 0h8m1 0h2m5 0h2m2 0h2m5 0h2m2 0h2m1 0h2m21 0h2m-102 1h3m1 0h5m5 0h2m3 0h4m1 0h6m2 0h6m1 0h4m7 0h4m3 0h2m5 0h11m-74 1h8m5 0h5m2 0h5m4 0h2m1 0h2m5 0h5m1 0h5m19 0h5m-74 1h7m3 0h2m4 0h9m3 0h21m1 0h2m16 0h3m-140 1h2m67 0h7m14 0h6m1 0h7m1 0h4m2 0h2m4 0h3m8 0h4m1 0h5m-106 1h2m34 0h3m1 0h2m1 0h5m3 0h2m2 0h5m3 0h7m1 0h15m14 0h7m68 0h2m-160 1h2m20 0h8m8 0h4m2 0h3m4 0h8m2 0h7m2 0h2m6 0h4m5 0h2m-105 1h2m33 0h7m1 0h5m2 0h8m1 0h2m2 0h3m1 0h2m1 0h13m1 0h2m2 0h2m3 0h2m3 0h2m1 0h2m-63 1h6m9 0h3m1 0h4m1 0h2m1 0h5m2 0h5m7 0h3m1 0h6m1 0h7m-80 1h2m10 0h2m4 0h3m4 0h7m3 0h7m1 0h6m1 0h4m2 0h2m1 0h11m4 0h6m-82 1h2m3 0h2m8 0h6m1 0h7m2 0h5m1 0h10m1 0h5m4 0h2m6 0h2m3 0h7m1 0h2m31 0h2m-96 1h8m1 0h2m3 0h5m1 0h6m1 0h15m3 0h2m6 0h2m39 0h2m81 0h2m-193 1h2m8 0h3m1 0h5m2 0h8m2 0h14m1 0h4m10 0h16m27 0h2m-95 1h2m1 0h13m3 0h3m3 0h28m3 0h3m2 0h2m31 0h4m-115 1h2m2 0h2m1 0h2m10 0h2m1 0h6m2 0h7m1 0h8m1 0h2m2 0h8m1 0h3m1 0h5m2 0h6m28 0h2m3 0h3m-109 1h4m9 0h14m2 0h5m1 0h5m1 0h10m1 0h12m3 0h2m3 0h2m28 0h2m4 0h2m-110 1h4m1 0h2m1 0h2m7 0h7m5 0h30m1 0h4m1 0h2m3 0h2m26 0h2m19 0h2m-120 1h2m1 0h2m4 0h2m5 0h5m4 0h2m3 0h13m1 0h23m30 0h2m2 0h4m-104 1h3m4 0h2m3 0h4m2 0h2m2 0h24m1 0h8m1 0h5m30 0h2m-96 1h2m1 0h2m5 0h2m6 0h9m1 0h9m2 0h14m2 0h10m18 0h2m4 0h4m1 0h8m102 0h2m-202 1h2m7 0h4m1 0h6m1 0h7m3 0h16m1 0h11m3 0h3m3 0h2m11 0h4m-106 1h2m25 0h2m2 0h2m1 0h8m3 0h31m2 0h2m1 0h4m3 0h3m3 0h2m7 0h2m-117 1h2m32 0h9m6 0h7m3 0h2m3 0h27m1 0h2m2 0h2m1 0h3m4 0h2m1 0h2m9 0h4m-117 1h2m25 0h3m2 0h2m5 0h4m1 0h30m1 0h9m15 0h2m4 0h2m-77 1h3m3 0h2m1 0h2m1 0h10m1 0h18m1 0h6m5 0h2m6 0h2m8 0h7m22 0h2m-103 1h3m2 0h2m2 0h3m1 0h35m1 0h6m1 0h2m7 0h2m7 0h2m3 0h2m32 0h2m-115 1h2m1 0h8m1 0h2m1 0h19m1 0h6m1 0h14m4 0h2m8 0h2m63 0h2m-153 1h2m3 0h2m8 0h4m2 0h2m4 0h26m1 0h3m1 0h9m3 0h2m7 0h3m1 0h2m1 0h3m21 0h6m4 0h2m-106 1h6m1 0h4m3 0h2m1 0h3m1 0h30m1 0h3m6 0h3m1 0h4m3 0h4m27 0h2m3 0h4m-130 1h2m18 0h4m2 0h4m1 0h23m4 0h2m1 0h8m4 0h2m1 0h4m1 0h2m31 0h4m2 0h4m-108 1h9m1 0h2m3 0h2m1 0h4m1 0h13m2 0h10m4 0h2m3 0h2m11 0h2m14 0h4m1 0h2m1 0h4m2 0h8m1 0h4m1 0h3m-110 1h14m2 0h14m2 0h3m2 0h5m3 0h5m2 0h5m9 0h2m20 0h2m2 0h5m2 0h2m2 0h7m97 0h2m-231 1h2m7 0h5m3 0h2m3 0h2m3 0h26m1 0h5m1 0h2m2 0h3m3 0h4m4 0h2m13 0h4m2 0h2m4 0h3m1 0h2m6 0h7m8 0h2m95 0h2m-231 1h2m10 0h2m6 0h2m1 0h40m1 0h2m1 0h2m7 0h4m12 0h6m1 0h11m3 0h8m1 0h2m6 0h2m3 0h2m-134 1h2m4 0h2m7 0h2m3 0h2m1 0h18m1 0h11m1 0h2m1 0h2m1 0h5m5 0h2m5 0h2m13 0h7m1 0h5m3 0h14m-108 1h9m2 0h2m2 0h22m2 0h6m1 0h7m1 0h6m2 0h2m7 0h9m2 0h6m1 0h22m3 0h2m-124 1h2m7 0h2m2 0h6m2 0h6m1 0h14m1 0h3m3 0h4m3 0h3m2 0h7m1 0h3m1 0h4m3 0h4m1 0h4m4 0h6m1 0h2m3 0h8m113 0h2m-235 1h2m12 0h2m2 0h2m2 0h30m2 0h4m2 0h5m1 0h15m2 0h16m2 0h11m1 0h2m3 0h2m5 0h3m51 0h2m-203 1h2m36 0h45m2 0h11m2 0h4m1 0h11m1 0h10m6 0h2m1 0h4m-107 1h2m2 0h2m6 0h2m4 0h40m1 0h3m1 0h11m1 0h3m1 0h3m2 0h7m3 0h6m-97 1h2m1 0h5m1 0h29m1 0h3m1 0h8m2 0h3m3 0h2m1 0h5m1 0h6m1 0h2m1 0h2m3 0h2m9 0h2m2 0h2m-104 1h4m2 0h2m4 0h2m1 0h6m1 0h19m1 0h4m1 0h23m5 0h7m2 0h3m7 0h2m2 0h2m1 0h2m-105 1h3m1 0h2m3 0h4m3 0h30m2 0h10m1 0h12m4 0h3m9 0h2m4 0h2m-104 1h2m2 0h3m1 0h2m1 0h2m2 0h4m2 0h2m3 0h2m1 0h34m2 0h3m4 0h9m8 0h2m-95 1h2m9 0h3m1 0h2m2 0h2m1 0h4m2 0h22m1 0h10m1 0h4m6 0h2m3 0h4m3 0h4m4 0h2m144 0h2m-240 1h2m4 0h2m2 0h16m1 0h19m1 0h7m2 0h2m2 0h15m2 0h2m2 0h6m8 0h2m-103 1h2m6 0h2m2 0h5m1 0h2m4 0h2m4 0h23m1 0h6m1 0h5m1 0h2m1 0h2m2 0h2m15 0h2m9 0h2m-98 1h2m3 0h2m3 0h21m1 0h33m10 0h2m1 0h2m12 0h2m-94 1h2m3 0h3m1 0h6m4 0h5m1 0h33m1 0h8m15 0h2m-84 1h3m2 0h4m1 0h4m1 0h7m2 0h12m1 0h22m13 0h3m153 0h2m-232 1h2m5 0h2m5 0h3m2 0h6m2 0h37m2 0h3m4 0h2m6 0h2m28 0h2m-113 1h2m10 0h3m1 0h2m1 0h6m1 0h22m1 0h9m3 0h3m2 0h4m3 0h3m-77 1h4m2 0h2m4 0h2m1 0h43m1 0h4m1 0h2m5 0h6m148 0h2m-223 1h2m1 0h2m2 0h5m1 0h2m4 0h3m2 0h3m2 0h21m1 0h4m2 0h9m8 0h2m145 0h2m-221 1h2m1 0h2m6 0h6m1 0h42m2 0h2m1 0h2m1 0h2m2 0h2m-81 1h2m4 0h2m1 0h2m3 0h2m1 0h2m1 0h41m8 0h2m1 0h2m2 0h2m44 0h2m-139 1h2m19 0h2m1 0h2m1 0h2m4 0h3m1 0h7m2 0h5m1 0h22m5 0h4m-68 1h2m8 0h2m2 0h4m1 0h2m1 0h9m1 0h22m2 0h8m1 0h5m1 0h4m141 0h2m-212 1h2m8 0h2m2 0h3m1 0h5m1 0h21m3 0h2m1 0h5m1 0h4m2 0h2m-64 1h2m2 0h8m3 0h23m1 0h2m4 0h7m1 0h5m3 0h6m1 0h3m15 0h2m-94 1h4m7 0h4m2 0h8m2 0h4m3 0h22m8 0h2m2 0h2m1 0h2m49 0h2m-121 1h2m11 0h4m2 0h12m1 0h12m1 0h4m2 0h2m1 0h2m3 0h3m3 0h2m28 0h2m50 0h2m-151 1h2m6 0h2m4 0h2m5 0h21m1 0h6m4 0h2m1 0h4m7 0h6m3 0h2m-102 1h2m28 0h2m3 0h2m4 0h2m1 0h21m1 0h6m7 0h3m2 0h7m4 0h4m-88 1h2m14 0h2m5 0h2m3 0h23m1 0h2m4 0h3m1 0h2m2 0h2m3 0h2m2 0h2m1 0h2m7 0h5m1 0h4m-75 1h4m1 0h3m4 0h28m3 0h2m4 0h2m3 0h2m4 0h2m5 0h3m5 0h3m-80 1h2m5 0h6m1 0h31m18 0h3m-61 1h2m1 0h2m2 0h7m1 0h4m1 0h7m1 0h5m4 0h2m3 0h3m10 0h2m7 0h2m-81 1h2m1 0h3m6 0h2m7 0h9m1 0h6m2 0h5m2 0h6m1 0h2m2 0h3m4 0h2m6 0h3m1 0h2m2 0h2m1 0h2m-77 1h4m5 0h13m1 0h2m2 0h17m2 0h2m2 0h2m8 0h2m8 0h2m3 0h3m1 0h2m1 0h6m-96 1h2m17 0h10m2 0h14m5 0h6m25 0h4m4 0h2m3 0h2m76 0h2m-172 1h2m6 0h2m2 0h2m4 0h24m3 0h6m12 0h2m7 0h3m4 0h3m1 0h3m3 0h2m1 0h2m74 0h2m17 0h2m-218 1h2m41 0h9m2 0h21m7 0h2m4 0h2m10 0h2m1 0h2m7 0h2m4 0h2m1 0h2m-91 1h2m4 0h4m1 0h7m2 0h23m5 0h2m40 0h2m46 0h2m-134 1h6m1 0h12m1 0h2m1 0h13m2 0h2m2 0h2m29 0h2m4 0h2m-84 1h17m1 0h6m2 0h13m1 0h2m-40 1h6m1 0h9m1 0h5m5 0h5m3 0h5m2 0h5m12 0h2m16 0h2m35 0h2m55 0h2m-167 1h12m2 0h16m11 0h2m-55 1h3m3 0h2m2 0h12m4 0h4m1 0h5m1 0h4m3 0h4m-42 1h4m1 0h5m3 0h4m1 0h2m1 0h2m2 0h2m1 0h8m2 0h2m-65 1h2m23 0h11m3 0h17m2 0h5m17 0h2m-66 1h2m6 0h2m1 0h10m1 0h5m1 0h2m2 0h13m3 0h2m9 0h2m-69 1h2m10 0h2m2 0h5m2 0h7m1 0h2m8 0h7m1 0h2m3 0h2m-48 1h2m6 0h2m3 0h8m6 0h5m1 0h2m1 0h3m118 0h2m-150 1h10m1 0h3m7 0h11m3 0h4m2 0h2m1 0h2m108 0h3m-165 1h2m1 0h2m3 0h7m2 0h2m2 0h2m5 0h2m3 0h5m2 0h2m91 0h2m-138 1h2m5 0h3m1 0h5m2 0h2m5 0h2m1 0h2m1 0h4m1 0h8m4 0h2m-52 1h2m3 0h3m1 0h2m3 0h10m5 0h2m9 0h7m5 0h2m-62 1h2m12 0h6m1 0h4m1 0h4m14 0h3m1 0h11m1 0h2m2 0h2m-55 1h4m1 0h4m2 0h6m12 0h4m1 0h2m1 0h9m-47 1h2m1 0h2m1 0h7m1 0h2m1 0h3m14 0h2m1 0h4m10 0h2m-54 1h2m2 0h2m1 0h9m5 0h2m2 0h2m3 0h2m6 0h2m2 0h2m1 0h7m16 0h2m34 0h2m12 0h2m-112 1h3m1 0h4m17 0h2m1 0h10m1 0h2m8 0h2m8 0h2m-85 1h2m13 0h2m2 0h10m5 0h2m3 0h2m16 0h2m-42 1h3m2 0h4m1 0h2m25 0h3m84 0h2m19 0h2m-149 1h13m1 0h2m3 0h2m-20 1h5m1 0h7m26 0h2m1 0h2m-44 1h10m6 0h2m-22 1h2m1 0h12m1 0h2m63 0h2m39 0h2m-125 1h2m1 0h2m1 0h4m1 0h2m1 0h2m-16 1h2m4 0h5m4 0h2m104 0h2m16 0h2m-140 1h2m1 0h8m4 0h2m-16 1h10m8 0h2m112 0h4m-130 1h2m-13 1h2m3 0h8m26 0h2m75 0h2m-114 1h2m1 0h2m5 0h2m-14 1h4m3 0h3m1 0h2m4 0h2m89 0h2m-105 1h2m-5 1h5m118 0h2m-93 1h2m-28 1h2m-19 1h2m32 1h2m-24 1h2m22 8h2m-19 1h2m78 4h2m-17 3h2m1 3h2m-9 3h2m-36 17h2m-74 8h2m49 3h2m-12 5h2m-43 5h2m-3 3h2m-1 13h2" stroke="#0a0cf4" stroke-opacity="0.9" stroke-width="2" fill="none"/>
<text x="27.20" y="495.10" font-size="8.3" text-anchor="middle" fill="#222">0</text>
<text x="56.08" y="495.10" font-size="8.3" text-anchor="middle" fill="#222">0.1</text>
<text x="84.95" y="495.10" font-size="8.3" text-anchor="middle" fill="#222">0.2</text>
<text x="113.83" y="495.10" font-size="8.3" text-anchor="middle" fill="#222">0.3</text>
<text x="142.70" y="495.10" font-size="8.3" text-anchor="middle" fill="#222">0.4</text>
<text x="171.57" y="495.10" font-size="8.3" text-anchor="middle" fill="#222">0.5</text>
<text x="200.45" y="495.10" font-size="8.3" text-anchor="middle" fill="#222">0.6</text>
<text x="229.32" y="495.10" font-size="8.3" text-anchor="middle" fill="#222">0.7</text>
<text x="258.20" y="495.10" font-size="8.3" text-anchor="middle" fill="#222">0.8</text>
<text x="24.30" y="489.40" font-size="8.3" text-anchor="end" fill="#222">0</text>
<text x="24.30" y="463.73" font-size="8.3" text-anchor="end" fill="#222">0.1</text>
<text x="24.30" y="438.07" font-size="8.3" text-anchor="end" fill="#222">0.2</text>
<text x="24.30" y="412.40" font-size="8.3" text-anchor="end" fill="#222">0.3</text>
<text x="24.30" y="386.73" font-size="8.3" text-anchor="end" fill="#222">0.4</text>
<text x="24.30" y="361.07" font-size="8.3" text-anchor="end" fill="#222">0.5</text>
<text x="24.30" y="335.40" font-size="8.3" text-anchor="end" fill="#222">0.6</text>
<text x="24.30" y="309.73" font-size="8.3" text-anchor="end" fill="#222">0.7</text>
<text x="24.30" y="284.07" font-size="8.3" text-anchor="end" fill="#222">0.8</text>
<text x="24.30" y="258.40" font-size="8.3" text-anchor="end" fill="#222">0.9</text>
<text x="140.20" y="507.10" font-size="7.9" text-anchor="middle" fill="#222">x position</text>
<text transform="translate(5.50,370.90) rotate(-90)" font-size="7.4" text-anchor="middle" textLength="35.4" lengthAdjust="spacingAndGlyphs" fill="#222">y position</text>
<text x="142.00" y="249.00" font-size="6.7" text-anchor="middle" fill="#222">CIE 1931 xy Gamut Mapping</text>
<path d="M336.97 253.3V483.9" stroke="#eef2f8" stroke-width="0.8"/>
<path d="M365.75 253.3V483.9" stroke="#eef2f8" stroke-width="0.8"/>
<path d="M394.52 253.3V483.9" stroke="#eef2f8" stroke-width="0.8"/>
<path d="M423.30 253.3V483.9" stroke="#eef2f8" stroke-width="0.8"/>
<path d="M452.07 253.3V483.9" stroke="#eef2f8" stroke-width="0.8"/>
<path d="M480.85 253.3V483.9" stroke="#eef2f8" stroke-width="0.8"/>
<path d="M509.62 253.3V483.9" stroke="#eef2f8" stroke-width="0.8"/>
<path d="M538.40 253.3V483.9" stroke="#eef2f8" stroke-width="0.8"/>
<path d="M308.2 458.28H538.4" stroke="#eef2f8" stroke-width="0.8"/>
<path d="M308.2 432.66H538.4" stroke="#eef2f8" stroke-width="0.8"/>
<path d="M308.2 407.03H538.4" stroke="#eef2f8" stroke-width="0.8"/>
<path d="M308.2 381.41H538.4" stroke="#eef2f8" stroke-width="0.8"/>
<path d="M308.2 355.79H538.4" stroke="#eef2f8" stroke-width="0.8"/>
<path d="M308.2 330.17H538.4" stroke="#eef2f8" stroke-width="0.8"/>
<path d="M308.2 304.54H538.4" stroke="#eef2f8" stroke-width="0.8"/>
<path d="M308.2 278.92H538.4" stroke="#eef2f8" stroke-width="0.8"/>
<path d="M308.2 253.30H538.4" stroke="#eef2f8" stroke-width="0.8"/>
<path d="M308.2 253.3V483.9H538.4" fill="none" stroke="#c0cdd0" stroke-width="1.3"/>
<path d="M308.20 483.9v-2.2" stroke="#c0cdd0" stroke-width="0.7"/>
<path d="M336.97 483.9v-2.2" stroke="#c0cdd0" stroke-width="0.7"/>
<path d="M365.75 483.9v-2.2" stroke="#c0cdd0" stroke-width="0.7"/>
<path d="M394.52 483.9v-2.2" stroke="#c0cdd0" stroke-width="0.7"/>
<path d="M423.30 483.9v-2.2" stroke="#c0cdd0" stroke-width="0.7"/>
<path d="M452.07 483.9v-2.2" stroke="#c0cdd0" stroke-width="0.7"/>
<path d="M480.85 483.9v-2.2" stroke="#c0cdd0" stroke-width="0.7"/>
<path d="M509.62 483.9v-2.2" stroke="#c0cdd0" stroke-width="0.7"/>
<path d="M538.40 483.9v-2.2" stroke="#c0cdd0" stroke-width="0.7"/>
<path d="M308.2 483.90h2.2" stroke="#c0cdd0" stroke-width="0.7"/>
<path d="M308.2 458.28h2.2" stroke="#c0cdd0" stroke-width="0.7"/>
<path d="M308.2 432.66h2.2" stroke="#c0cdd0" stroke-width="0.7"/>
<path d="M308.2 407.03h2.2" stroke="#c0cdd0" stroke-width="0.7"/>
<path d="M308.2 381.41h2.2" stroke="#c0cdd0" stroke-width="0.7"/>
<path d="M308.2 355.79h2.2" stroke="#c0cdd0" stroke-width="0.7"/>
<path d="M308.2 330.17h2.2" stroke="#c0cdd0" stroke-width="0.7"/>
<path d="M308.2 304.54h2.2" stroke="#c0cdd0" stroke-width="0.7"/>
<path d="M308.2 278.92h2.2" stroke="#c0cdd0" stroke-width="0.7"/>
<path d="M308.2 253.30h2.2" stroke="#c0cdd0" stroke-width="0.7"/>
<polyline points="358.84,481.47 358.75,481.48 358.65,481.49 358.56,481.49 358.46,481.50 358.36,481.50 358.27,481.49 358.17,481.48 358.08,481.47 357.98,481.47 357.87,481.46 357.74,481.44 357.58,481.39 357.37,481.30 357.11,481.18 356.80,481.03 356.45,480.86 356.03,480.63 355.51,480.31 354.87,479.89 354.12,479.40 353.26,478.90 352.30,478.39 351.13,477.62 349.64,476.29 347.78,474.22 345.77,471.68 343.91,469.09 342.39,466.72 341.08,464.35 339.74,461.66 338.19,458.37 336.42,454.44 334.47,449.90 332.38,444.77 330.20,438.98 327.97,432.48 325.73,425.19 323.49,417.13 321.26,408.31 319.06,398.78 316.93,388.67 314.96,378.16 313.21,367.41 311.73,356.62 310.56,345.95 309.74,335.58 309.32,325.61 309.32,316.13 309.79,307.22 310.74,299.03 312.20,291.68 314.16,285.31 316.58,280.00 319.39,275.85 322.55,272.91 325.96,271.09 329.58,270.26 333.33,270.29 337.17,271.00 341.06,272.21 344.98,273.74 348.88,275.50 352.71,277.41 356.46,279.41 360.11,281.48 363.71,283.64 367.26,285.88 370.77,288.22 374.27,290.63 377.75,293.13 381.22,295.69 384.68,298.32 388.13,301.00 391.56,303.74 394.99,306.52 398.41,309.34 401.83,312.19 405.26,315.08 408.69,317.99 412.13,320.93 415.56,323.89 418.98,326.86 422.39,329.84 425.80,332.83 429.21,335.82 432.61,338.80 435.99,341.77 439.35,344.74 442.67,347.69 445.97,350.61 449.24,353.51 452.48,356.39 455.67,359.22 458.82,362.02 461.92,364.77 464.97,367.47 467.95,370.11 470.87,372.69 473.71,375.21 476.48,377.67 479.14,380.04 481.68,382.31 484.10,384.46 486.41,386.50 488.62,388.46 490.75,390.35 492.79,392.16 494.72,393.86 496.52,395.45 498.21,396.93 499.78,398.32 501.25,399.63 502.63,400.85 503.90,401.99 505.08,403.04 506.17,404.01 507.18,404.91 508.12,405.73 508.99,406.50 509.80,407.21 510.55,407.88 511.24,408.50 511.90,409.08 512.52,409.64 513.10,410.16 513.65,410.65 514.17,411.10 514.64,411.53 515.09,411.93 515.51,412.29 515.90,412.63 516.24,412.93 516.55,413.20 516.83,413.45 517.11,413.70 517.40,413.95 517.73,414.22 518.11,414.52" fill="none" stroke="#a6b6b2" stroke-width="1.1"/>
<path d="M358.84 481.47L518.11 414.52" stroke="#a8bcd8" stroke-width="0.9"/>
<polygon points="362.01,284.05 498.11,399.35 351.36,473.65" fill="none" stroke="#f8a2ca" stroke-width="0.9"/>
<circle cx="362.01" cy="284.05" r="1.4" fill="none" stroke="#f8a2ca" stroke-width="0.6"/>
<circle cx="498.11" cy="399.35" r="1.4" fill="none" stroke="#f8a2ca" stroke-width="0.6"/>
<circle cx="351.36" cy="473.65" r="1.4" fill="none" stroke="#f8a2ca" stroke-width="0.6"/>
<polygon points="395.10,330.68 492.94,399.86 351.65,469.04" fill="none" stroke="#f690be" stroke-width="0.9"/>
<circle cx="395.10" cy="330.68" r="1.4" fill="none" stroke="#f690be" stroke-width="0.6"/>
<circle cx="492.94" cy="399.86" r="1.4" fill="none" stroke="#f690be" stroke-width="0.6"/>
<circle cx="351.65" cy="469.04" r="1.4" fill="none" stroke="#f690be" stroke-width="0.6"/>
<path transform="scale(.5)" d="m801 670h2m-12 2h2m12 1h2m-2 1h2m-2 1h2m1 0h2m-7 1h2m1 0h4m1 1h2m-29 1h2m18 0h2m1 0h6m-6 1h2m3 0h3m-19 1h2m6 0h3m3 0h6m-9 1h2m5 0h4m-3 1h3m-10 1h2m8 0h2m-5 1h2m1 0h4m-40 1h2m33 0h4m1 0h2m-38 1h2m8 0h2m20 0h3m2 0h4m-34 1h2m22 0h2m-4 1h2m3 0h2m2 0h2m-28 1h2m19 0h2m7 0h2m-14 1h4m7 0h2m-36 1h2m32 0h6m-4 1h6m-37 1h2m4 0h2m13 0h2m7 0h4m1 0h3m-46 1h2m5 0h2m26 0h2m1 0h4m-35 1h2m29 0h2m1 0h4m-57 1h2m11 0h2m2 0h2m37 0h4m-48 1h2m3 0h2m25 0h2m6 0h2m2 0h2m1 0h4m-49 1h2m1 0h5m23 0h2m14 0h4m-9 1h2m3 0h2m-51 1h2m3 0h2m2 0h3m1 0h2m33 0h4m-49 1h2m2 0h2m29 0h2m3 0h2m1 0h2m1 0h2m1 0h4m-66 1h2m8 0h2m2 0h9m34 0h5m-48 1h3m3 0h2m10 0h2m18 0h2m4 0h2m1 0h2m2 0h3m-52 1h8m28 0h2m3 0h2m2 0h2m1 0h5m1 0h2m-54 1h6m24 0h2m3 0h2m4 0h2m6 0h2m2 0h2m-56 1h4m25 0h2m4 0h3m1 0h2m2 0h2m6 0h6m-64 1h2m2 0h7m6 0h2m11 0h2m10 0h6m3 0h2m1 0h2m3 0h2m1 0h2m-63 1h7m1 0h2m2 0h2m1 0h2m9 0h2m7 0h2m2 0h3m1 0h5m3 0h2m7 0h5m-75 1h2m13 0h6m1 0h3m19 0h2m1 0h5m1 0h5m6 0h2m4 0h6m-67 1h2m1 0h2m1 0h3m1 0h5m3 0h2m9 0h3m1 0h2m1 0h4m4 0h3m1 0h4m3 0h2m4 0h2m-55 1h6m14 0h3m3 0h2m2 0h4m1 0h10m7 0h2m2 0h6m-70 1h2m2 0h2m2 0h3m24 0h2m1 0h2m3 0h7m15 0h4m1 0h2m-65 1h2m2 0h2m16 0h2m4 0h11m2 0h3m10 0h2m4 0h2m1 0h4m-67 1h7m10 0h2m1 0h2m4 0h2m3 0h10m1 0h5m7 0h2m4 0h5m2 0h2m-94 1h2m20 0h15m8 0h19m2 0h2m2 0h2m16 0h6m-76 1h2m2 0h4m1 0h4m1 0h4m9 0h3m2 0h15m24 0h5m-74 1h4m1 0h10m11 0h4m1 0h16m1 0h2m22 0h2m-76 1h2m5 0h8m12 0h4m2 0h2m1 0h15m17 0h3m3 0h2m1 0h3m-76 1h2m1 0h9m9 0h4m3 0h2m1 0h15m12 0h2m5 0h6m2 0h5m-79 1h2m2 0h9m10 0h2m3 0h13m1 0h3m1 0h2m15 0h2m1 0h2m2 0h6m1 0h4m-84 1h2m1 0h15m7 0h2m1 0h17m1 0h2m16 0h2m1 0h4m2 0h12m-76 1h8m8 0h2m2 0h2m1 0h2m1 0h4m2 0h3m22 0h11m1 0h2m3 0h4m-107 1h2m21 0h2m1 0h3m2 0h3m1 0h2m8 0h2m5 0h14m5 0h2m17 0h7m3 0h2m2 0h2m1 0h2m-100 1h2m12 0h2m1 0h2m1 0h2m3 0h2m8 0h2m2 0h3m2 0h3m1 0h4m2 0h5m14 0h3m1 0h11m1 0h8m-85 1h2m8 0h8m5 0h2m2 0h3m1 0h3m1 0h3m1 0h5m4 0h2m2 0h2m4 0h2m3 0h12m1 0h2m1 0h5m-98 1h2m15 0h2m3 0h10m6 0h2m2 0h2m2 0h10m1 0h2m16 0h7m1 0h10m3 0h2m1 0h3m2 0h2m-94 1h6m5 0h7m6 0h7m2 0h12m10 0h2m3 0h2m2 0h2m1 0h2m1 0h8m1 0h4m6 0h4m-114 1h2m32 0h3m8 0h7m1 0h7m1 0h2m1 0h2m2 0h2m1 0h2m7 0h2m4 0h3m1 0h14m3 0h2m2 0h4m-82 1h4m4 0h2m2 0h20m21 0h14m4 0h5m2 0h2m1 0h3m-88 1h2m3 0h4m6 0h3m1 0h2m4 0h9m12 0h4m2 0h2m3 0h12m11 0h2m6 0h3m-95 1h2m4 0h5m1 0h2m3 0h9m3 0h3m1 0h2m1 0h3m2 0h2m3 0h2m1 0h2m3 0h21m7 0h4m1 0h2m1 0h5m-96 1h2m1 0h2m5 0h6m5 0h7m1 0h2m1 0h4m2 0h2m1 0h2m13 0h2m2 0h3m2 0h6m1 0h3m20 0h4m-98 1h2m3 0h8m8 0h3m9 0h2m1 0h2m18 0h9m1 0h2m2 0h3m18 0h7m-101 1h4m8 0h5m5 0h2m1 0h6m1 0h4m11 0h4m3 0h2m4 0h10m6 0h2m17 0h2m3 0h2m-95 1h2m4 0h2m1 0h4m1 0h5m1 0h3m4 0h2m1 0h3m3 0h2m3 0h2m6 0h2m2 0h8m4 0h4m18 0h11m-97 1h4m7 0h9m1 0h2m1 0h2m10 0h2m1 0h2m10 0h8m1 0h4m27 0h4m1 0h2m-95 1h2m7 0h3m8 0h2m1 0h4m3 0h2m1 0h2m12 0h7m1 0h2m1 0h2m2 0h2m1 0h2m23 0h6m-116 1h2m18 0h2m7 0h2m1 0h4m2 0h2m2 0h3m3 0h2m6 0h2m2 0h2m5 0h11m4 0h2m24 0h4m1 0h5m-98 1h2m4 0h2m2 0h2m3 0h5m13 0h4m7 0h2m5 0h2m7 0h2m28 0h2m2 0h3m-108 1h2m7 0h2m11 0h2m3 0h2m4 0h2m2 0h2m5 0h2m4 0h2m4 0h7m2 0h2m30 0h2m6 0h2m1 0h3m-117 1h2m12 0h2m8 0h7m2 0h3m2 0h2m8 0h2m1 0h3m4 0h2m8 0h2m3 0h2m1 0h2m32 0h2m2 0h6m-114 1h4m4 0h4m7 0h6m4 0h2m14 0h2m4 0h3m2 0h3m1 0h2m1 0h2m2 0h2m36 0h2m3 0h5m-131 1h2m15 0h2m15 0h4m6 0h6m7 0h4m4 0h2m3 0h2m5 0h2m8 0h2m29 0h2m2 0h10m-116 1h2m4 0h3m1 0h3m7 0h5m6 0h2m7 0h4m1 0h2m12 0h2m2 0h5m35 0h4m1 0h5m1 0h3m-122 1h2m8 0h2m2 0h2m7 0h2m5 0h3m3 0h2m1 0h2m4 0h5m4 0h2m1 0h2m8 0h5m20 0h2m11 0h5m1 0h2m1 0h5m2 0h3m-146 1h2m27 0h2m3 0h2m8 0h3m2 0h2m15 0h2m6 0h2m1 0h3m7 0h6m30 0h2m1 0h7m1 0h12m-110 1h2m8 0h2m10 0h2m5 0h3m5 0h3m1 0h2m8 0h7m20 0h2m9 0h23m-137 1h2m1 0h2m9 0h2m7 0h2m1 0h2m5 0h2m2 0h2m4 0h2m13 0h5m2 0h2m8 0h4m22 0h2m5 0h2m8 0h10m1 0h9m-123 1h2m1 0h2m6 0h2m5 0h2m1 0h2m3 0h2m9 0h15m2 0h4m3 0h2m3 0h2m16 0h2m7 0h2m7 0h8m2 0h2m2 0h9m-119 1h2m8 0h6m6 0h2m5 0h2m1 0h4m1 0h3m2 0h2m3 0h2m2 0h8m19 0h2m10 0h2m6 0h4m1 0h8m1 0h4m1 0h3m-126 1h6m10 0h3m10 0h2m2 0h6m3 0h4m1 0h2m1 0h2m1 0h2m1 0h10m33 0h18m1 0h2m1 0h5m-126 1h4m3 0h4m6 0h2m3 0h2m2 0h2m7 0h2m1 0h3m1 0h3m1 0h2m6 0h2m1 0h5m17 0h4m13 0h23m6 0h2m-128 1h3m8 0h2m7 0h2m11 0h10m4 0h4m3 0h7m17 0h2m10 0h2m6 0h17m1 0h4m9 0h4m-125 1h2m7 0h2m6 0h2m5 0h5m3 0h10m1 0h2m1 0h2m1 0h7m14 0h2m7 0h3m1 0h2m8 0h5m1 0h6m6 0h2m2 0h3m1 0h6m-161 1h2m29 0h2m2 0h2m1 0h2m4 0h3m7 0h2m3 0h9m1 0h7m2 0h8m5 0h2m31 0h2m2 0h5m1 0h8m1 0h3m8 0h2m2 0h2m-148 1h2m17 0h2m5 0h2m5 0h2m6 0h2m1 0h4m1 0h14m3 0h9m1 0h2m35 0h2m1 0h2m2 0h5m3 0h2m5 0h4m2 0h3m2 0h2m-130 1h3m1 0h4m6 0h4m13 0h6m1 0h2m5 0h14m22 0h2m4 0h4m2 0h5m1 0h5m1 0h2m24 0h5m-136 1h2m12 0h4m2 0h2m9 0h8m2 0h15m3 0h2m5 0h2m6 0h2m11 0h2m5 0h7m1 0h3m1 0h2m22 0h8m-153 1h2m12 0h2m13 0h2m3 0h2m1 0h2m7 0h11m1 0h11m15 0h2m15 0h2m1 0h3m6 0h7m23 0h2m4 0h2m1 0h2m-132 1h2m6 0h2m2 0h6m3 0h3m1 0h14m2 0h2m1 0h2m12 0h4m5 0h3m2 0h4m7 0h2m3 0h4m2 0h4m20 0h2m1 0h5m1 0h7m-141 1h5m2 0h2m14 0h2m3 0h9m2 0h4m1 0h9m8 0h2m2 0h2m2 0h2m14 0h2m6 0h2m3 0h3m3 0h2m21 0h2m1 0h2m6 0h4m-155 1h2m12 0h6m5 0h2m4 0h4m7 0h13m2 0h8m4 0h2m7 0h2m5 0h2m5 0h2m1 0h3m5 0h2m2 0h2m3 0h2m32 0h2m1 0h2m1 0h2m1 0h2m-145 1h4m1 0h4m4 0h3m1 0h2m10 0h20m13 0h4m5 0h2m2 0h2m7 0h2m1 0h2m3 0h2m5 0h2m2 0h2m7 0h2m20 0h11m-162 1h2m13 0h4m2 0h3m1 0h2m5 0h2m9 0h4m1 0h10m1 0h5m13 0h2m1 0h2m3 0h2m6 0h2m1 0h4m4 0h2m1 0h2m1 0h2m2 0h2m12 0h2m27 0h2m3 0h2m-142 1h3m8 0h2m4 0h2m3 0h10m1 0h2m2 0h5m11 0h3m12 0h5m3 0h3m3 0h2m8 0h2m37 0h3m7 0h3m-136 1h3m2 0h3m8 0h7m6 0h6m8 0h2m8 0h2m2 0h3m4 0h2m12 0h4m24 0h2m5 0h4m3 0h2m8 0h2m-156 1h2m4 0h2m4 0h2m3 0h3m7 0h3m1 0h2m4 0h2m2 0h8m3 0h4m8 0h5m2 0h2m10 0h13m8 0h2m8 0h4m2 0h2m2 0h3m4 0h2m1 0h2m2 0h2m17 0h5m-162 1h3m26 0h4m5 0h2m2 0h4m1 0h2m3 0h3m8 0h2m1 0h2m7 0h2m1 0h3m2 0h9m2 0h3m1 0h4m2 0h4m3 0h3m5 0h9m7 0h2m21 0h2m-143 1h2m11 0h12m2 0h2m1 0h5m13 0h2m6 0h4m1 0h6m1 0h6m3 0h4m8 0h2m2 0h2m5 0h2m3 0h4m2 0h3m1 0h5m15 0h2m6 0h4m-149 1h3m5 0h2m1 0h2m1 0h2m5 0h3m1 0h5m15 0h5m10 0h13m1 0h2m1 0h2m11 0h2m1 0h2m4 0h8m16 0h2m2 0h2m18 0h5m-166 1h2m12 0h4m2 0h4m1 0h4m3 0h2m3 0h4m5 0h2m10 0h5m5 0h4m1 0h2m3 0h8m1 0h6m9 0h2m5 0h2m9 0h4m5 0h4m11 0h3m14 0h4m-179 1h2m6 0h2m3 0h3m7 0h2m2 0h3m2 0h4m4 0h2m4 0h2m2 0h3m4 0h3m10 0h2m6 0h2m2 0h6m2 0h11m1 0h5m12 0h4m4 0h2m3 0h3m2 0h2m2 0h2m1 0h3m12 0h2m15 0h4m-169 1h2m1 0h2m3 0h2m3 0h2m5 0h4m1 0h2m1 0h4m3 0h2m1 0h5m2 0h2m1 0h3m1 0h2m3 0h4m4 0h3m1 0h2m4 0h16m6 0h2m7 0h2m1 0h2m2 0h2m1 0h2m3 0h3m2 0h2m39 0h4m-191 1h2m21 0h3m15 0h5m7 0h3m2 0h2m2 0h4m11 0h2m13 0h2m1 0h3m2 0h15m4 0h2m5 0h2m1 0h3m5 0h2m5 0h6m3 0h2m2 0h2m6 0h2m18 0h2m1 0h5m-157 1h4m1 0h2m3 0h3m3 0h2m2 0h12m8 0h2m5 0h2m3 0h2m3 0h4m1 0h16m20 0h2m2 0h2m2 0h2m6 0h5m31 0h2m5 0h2m-171 1h4m5 0h2m1 0h2m3 0h4m3 0h2m1 0h3m7 0h6m6 0h5m4 0h2m1 0h3m1 0h16m1 0h5m8 0h2m1 0h2m5 0h3m2 0h5m1 0h6m1 0h2m2 0h2m36 0h4m1 0h3m-177 1h2m10 0h3m1 0h3m4 0h3m1 0h2m1 0h11m2 0h2m10 0h2m11 0h4m1 0h10m1 0h2m4 0h2m11 0h6m1 0h10m1 0h3m2 0h2m5 0h2m1 0h6m29 0h2m1 0h3m-161 1h4m1 0h3m4 0h3m3 0h2m1 0h2m1 0h4m7 0h2m6 0h2m4 0h3m3 0h17m8 0h2m3 0h2m1 0h2m21 0h2m43 0h4m-182 1h2m11 0h2m5 0h2m5 0h10m1 0h2m1 0h2m1 0h4m8 0h4m5 0h2m2 0h2m2 0h11m1 0h6m17 0h2m3 0h2m4 0h2m3 0h2m58 0h3m-179 1h2m11 0h2m2 0h3m1 0h2m5 0h12m5 0h4m1 0h3m2 0h3m2 0h2m3 0h2m1 0h10m1 0h7m2 0h2m8 0h2m3 0h2m3 0h2m2 0h2m50 0h2m5 0h2m-199 1h2m2 0h2m31 0h4m8 0h7m1 0h3m3 0h3m4 0h5m1 0h2m11 0h2m3 0h13m10 0h2m16 0h2m60 0h2m4 0h3m-207 1h2m15 0h4m9 0h2m7 0h2m3 0h6m3 0h5m3 0h4m3 0h4m2 0h2m2 0h2m6 0h7m1 0h11m1 0h2m2 0h4m1 0h4m69 0h3m13 0h7m-193 1h2m5 0h2m2 0h2m8 0h2m2 0h4m2 0h6m1 0h7m4 0h4m13 0h2m6 0h9m1 0h6m3 0h2m17 0h2m23 0h2m23 0h2m10 0h2m4 0h2m2 0h2m2 0h4m-200 1h2m16 0h2m4 0h2m3 0h2m2 0h14m1 0h3m10 0h2m10 0h3m4 0h6m3 0h4m5 0h2m1 0h2m66 0h2m3 0h2m3 0h6m8 0h4m1 0h4m-199 1h2m9 0h2m13 0h7m1 0h9m2 0h4m1 0h6m1 0h2m1 0h2m7 0h4m1 0h2m2 0h2m1 0h4m2 0h8m67 0h2m2 0h2m1 0h4m9 0h2m4 0h3m1 0h2m2 0h5m-180 1h2m1 0h5m1 0h7m1 0h4m2 0h3m2 0h2m2 0h7m5 0h3m16 0h5m1 0h2m55 0h2m5 0h2m6 0h2m5 0h3m2 0h6m13 0h2m2 0h5m-187 1h2m2 0h3m3 0h13m2 0h10m16 0h4m7 0h5m1 0h6m15 0h2m47 0h2m2 0h2m3 0h2m1 0h3m5 0h9m3 0h5m9 0h2m1 0h3m-213 1h2m18 0h2m5 0h8m4 0h2m2 0h9m2 0h2m1 0h3m9 0h2m1 0h2m9 0h2m3 0h7m1 0h2m1 0h2m2 0h2m43 0h2m4 0h2m2 0h3m2 0h5m1 0h4m3 0h12m1 0h4m1 0h4m4 0h7m3 0h2m-209 1h2m9 0h4m1 0h2m7 0h2m2 0h16m2 0h10m9 0h4m6 0h4m9 0h2m39 0h2m2 0h2m1 0h2m11 0h2m5 0h3m3 0h6m3 0h11m1 0h4m1 0h2m5 0h5m1 0h3m2 0h4m-203 1h2m5 0h2m7 0h3m1 0h21m5 0h2m7 0h2m1 0h2m3 0h2m4 0h2m3 0h5m4 0h2m28 0h5m5 0h2m6 0h2m1 0h4m1 0h2m8 0h4m3 0h4m1 0h2m1 0h12m1 0h2m2 0h4m9 0h2m2 0h2m1 0h4m-206 1h3m4 0h8m6 0h22m5 0h4m4 0h2m9 0h4m9 0h2m27 0h4m6 0h2m3 0h7m6 0h10m2 0h9m1 0h20m7 0h3m5 0h2m2 0h6m-203 1h2m2 0h2m1 0h7m3 0h14m1 0h7m4 0h2m1 0h3m2 0h3m5 0h2m11 0h4m20 0h2m3 0h7m5 0h4m11 0h2m2 0h3m4 0h2m1 0h2m1 0h3m1 0h4m1 0h6m2 0h13m1 0h5m15 0h2m1 0h4m-215 1h2m10 0h2m1 0h4m1 0h4m1 0h17m1 0h7m2 0h4m3 0h2m6 0h5m8 0h2m21 0h2m2 0h2m1 0h2m2 0h3m4 0h2m4 0h8m1 0h6m7 0h5m1 0h3m1 0h2m3 0h2m1 0h13m1 0h4m5 0h5m1 0h2m3 0h2m8 0h2m-211 1h2m7 0h2m1 0h5m8 0h3m1 0h18m1 0h5m1 0h3m4 0h3m21 0h2m11 0h3m3 0h4m9 0h3m17 0h2m8 0h2m10 0h17m3 0h3m2 0h2m-179 1h37m1 0h5m11 0h2m10 0h2m2 0h2m9 0h2m1 0h2m2 0h2m5 0h5m3 0h2m5 0h3m3 0h2m20 0h2m5 0h2m2 0h11m1 0h3m1 0h5m8 0h2m-178 1h2m4 0h5m1 0h25m2 0h2m1 0h2m21 0h2m6 0h2m2 0h2m1 0h2m1 0h6m2 0h8m4 0h2m3 0h2m7 0h2m5 0h2m4 0h2m5 0h2m4 0h2m1 0h6m1 0h3m3 0h2m1 0h9m2 0h2m1 0h2m1 0h3m2 0h2m-187 1h2m2 0h3m1 0h2m3 0h2m1 0h22m3 0h4m15 0h3m3 0h2m1 0h2m3 0h2m1 0h2m4 0h4m9 0h2m26 0h2m15 0h2m1 0h5m2 0h5m1 0h13m-168 1h16m1 0h13m1 0h8m1 0h2m2 0h2m9 0h8m1 0h7m6 0h2m37 0h2m4 0h2m1 0h2m10 0h2m11 0h2m2 0h2m3 0h3m2 0h2m48 0h2m-216 1h12m2 0h2m1 0h18m2 0h2m2 0h2m4 0h6m3 0h4m11 0h2m31 0h2m3 0h2m4 0h2m1 0h2m2 0h6m7 0h2m1 0h9m5 0h2m4 0h2m28 0h2m-191 1h2m2 0h14m1 0h20m1 0h4m1 0h5m3 0h3m5 0h2m31 0h2m16 0h2m3 0h3m1 0h3m1 0h3m1 0h3m11 0h6m33 0h2m33 0h2m-234 1h2m13 0h2m4 0h9m1 0h12m1 0h18m60 0h4m3 0h2m3 0h2m1 0h6m1 0h3m12 0h3m4 0h2m18 0h2m41 0h2m-223 1h4m2 0h2m3 0h4m5 0h2m3 0h23m5 0h2m33 0h2m15 0h2m1 0h2m2 0h8m1 0h9m1 0h3m3 0h4m7 0h2m8 0h2m-176 1h2m9 0h3m2 0h2m4 0h5m5 0h8m1 0h12m2 0h11m1 0h2m4 0h2m2 0h2m13 0h2m1 0h2m6 0h2m1 0h2m1 0h2m11 0h2m5 0h3m3 0h4m1 0h10m3 0h2m9 0h2m-151 1h3m2 0h4m2 0h5m2 0h6m1 0h19m1 0h2m1 0h5m1 0h2m1 0h4m4 0h2m9 0h4m5 0h3m4 0h2m3 0h2m7 0h2m2 0h25m3 0h4m3 0h2m-147 1h2m5 0h6m4 0h20m4 0h4m1 0h5m1 0h2m9 0h3m2 0h3m1 0h4m8 0h3m1 0h2m4 0h4m6 0h3m1 0h17m1 0h10m7 0h3m3 0h2m19 0h3m6 0h2m-190 1h2m13 0h2m2 0h2m2 0h5m1 0h8m1 0h12m2 0h3m5 0h6m1 0h2m27 0h4m1 0h3m5 0h3m1 0h24m1 0h2m1 0h2m2 0h4m3 0h2m1 0h4m5 0h2m9 0h2m4 0h2m12 0h3m7 0h2m-197 1h2m3 0h2m1 0h2m2 0h2m1 0h6m2 0h16m4 0h2m1 0h3m1 0h2m2 0h2m1 0h7m4 0h2m27 0h2m2 0h2m2 0h5m1 0h13m2 0h2m12 0h2m34 0h2m17 0h2m11 0h2m-200 1h2m8 0h2m1 0h12m1 0h2m1 0h2m4 0h3m5 0h5m4 0h6m1 0h6m28 0h2m1 0h10m1 0h13m1 0h5m2 0h5m-140 1h3m1 0h7m8 0h9m1 0h5m1 0h2m12 0h2m9 0h4m1 0h2m1 0h2m2 0h2m4 0h2m25 0h2m1 0h3m1 0h2m2 0h3m2 0h7m12 0h2m7 0h3m48 0h2m-203 1h2m3 0h3m5 0h13m1 0h10m12 0h2m5 0h2m4 0h5m1 0h3m1 0h2m3 0h5m3 0h3m1 0h3m10 0h2m4 0h4m7 0h3m-139 1h2m18 0h2m1 0h2m1 0h2m2 0h2m1 0h15m1 0h7m8 0h2m10 0h2m2 0h2m6 0h2m9 0h2m8 0h3m1 0h2m2 0h2m7 0h2m52 0h2m-149 1h5m3 0h6m2 0h3m3 0h2m5 0h2m1 0h2m2 0h2m6 0h2m2 0h6m4 0h3m4 0h4m7 0h3m6 0h3m3 0h2m2 0h2m12 0h2m3 0h2m34 0h2m-175 1h2m12 0h2m2 0h2m1 0h6m1 0h9m1 0h3m4 0h6m7 0h2m2 0h2m5 0h2m7 0h2m7 0h2m1 0h4m1 0h2m8 0h2m1 0h2m3 0h2m5 0h2m80 0h2m-197 1h2m4 0h2m2 0h3m1 0h2m1 0h14m2 0h6m16 0h2m5 0h2m1 0h4m11 0h4m6 0h7m12 0h6m1 0h2m1 0h2m41 0h2m-162 1h3m1 0h4m1 0h7m2 0h9m2 0h4m1 0h4m1 0h2m1 0h4m9 0h2m10 0h2m1 0h3m2 0h3m4 0h2m1 0h6m4 0h2m11 0h2m8 0h2m1 0h2m-125 1h2m14 0h18m7 0h5m9 0h2m3 0h2m4 0h2m2 0h3m4 0h4m1 0h2m2 0h2m1 0h4m2 0h3m3 0h4m8 0h2m8 0h2m45 0h2m-173 1h2m3 0h2m7 0h3m1 0h4m1 0h2m5 0h7m3 0h4m11 0h2m4 0h3m2 0h8m1 0h2m1 0h2m7 0h2m5 0h5m4 0h3m2 0h4m22 0h2m1 0h2m4 0h2m-162 1h2m13 0h2m3 0h2m3 0h4m1 0h7m1 0h3m2 0h5m7 0h2m3 0h4m15 0h2m7 0h9m1 0h3m19 0h2m26 0h2m2 0h4m3 0h4m4 0h3m25 0h2m6 0h2m-181 1h3m3 0h5m1 0h5m12 0h2m2 0h4m1 0h2m12 0h2m10 0h7m3 0h3m1 0h2m10 0h2m10 0h2m10 0h2m2 0h2m4 0h2m2 0h2m8 0h4m5 0h2m-153 1h2m1 0h3m3 0h4m2 0h4m1 0h3m2 0h7m6 0h2m10 0h2m10 0h8m6 0h4m1 0h3m1 0h7m16 0h3m14 0h2m1 0h2m20 0h4m-164 1h2m11 0h3m2 0h4m5 0h5m5 0h3m7 0h2m30 0h10m4 0h5m2 0h3m18 0h2m1 0h2m7 0h2m2 0h3m-132 1h3m1 0h2m4 0h8m1 0h2m6 0h2m1 0h2m7 0h2m15 0h2m17 0h2m1 0h14m16 0h2m15 0h2m1 0h2m1 0h2m5 0h2m23 0h2m-165 1h2m5 0h11m1 0h2m2 0h4m1 0h4m2 0h2m8 0h2m6 0h2m19 0h8m1 0h2m1 0h3m1 0h2m2 0h4m2 0h2m18 0h2m4 0h3m31 0h2m-186 1h2m14 0h2m4 0h2m2 0h2m2 0h2m1 0h10m1 0h3m3 0h3m1 0h2m1 0h4m6 0h2m5 0h2m24 0h2m9 0h3m5 0h4m-103 1h2m1 0h3m2 0h2m3 0h5m4 0h3m3 0h5m4 0h2m1 0h2m1 0h2m33 0h2m1 0h2m1 0h2m8 0h2m16 0h2m29 0h2m-142 1h6m1 0h15m1 0h2m28 0h2m6 0h2m18 0h2m5 0h2m1 0h2m4 0h2m5 0h2m20 0h2m-152 1h2m21 0h2m3 0h2m2 0h2m1 0h8m15 0h6m8 0h3m3 0h2m10 0h2m7 0h2m2 0h2m2 0h3m11 0h2m8 0h2m59 0h2m-169 1h2m1 0h7m1 0h3m1 0h2m3 0h6m3 0h2m2 0h6m4 0h2m1 0h4m3 0h2m1 0h4m6 0h2m11 0h2m5 0h2m4 0h2m1 0h2m11 0h2m28 0h2m-143 1h2m2 0h15m2 0h2m16 0h3m10 0h2m3 0h2m1 0h2m18 0h2m8 0h2m11 0h2m55 0h2m-165 1h3m2 0h4m2 0h2m1 0h3m1 0h3m1 0h4m15 0h2m30 0h2m20 0h2m17 0h2m17 0h4m5 0h2m4 0h2m1 0h2m-155 1h5m2 0h9m1 0h4m4 0h2m70 0h2m10 0h2m2 0h2m13 0h2m-126 1h2m1 0h2m3 0h5m1 0h3m2 0h2m21 0h2m24 0h2m-75 1h4m3 0h2m2 0h11m1 0h4m21 0h2m11 0h2m10 0h2m7 0h4m42 0h2m-139 1h2m16 0h2m2 0h8m1 0h3m3 0h2m13 0h7m20 0h2m67 0h2m14 0h2m5 0h2m-167 1h2m3 0h2m1 0h2m2 0h6m1 0h11m10 0h2m5 0h2m8 0h2m1 0h5m6 0h2m16 0h2m24 0h2m5 0h2m18 0h2m-144 1h2m10 0h10m2 0h2m20 0h2m1 0h2m1 0h2m2 0h3m1 0h2m2 0h2m1 0h2m34 0h2m7 0h2m13 0h2m17 0h2m-148 1h2m7 0h10m5 0h4m2 0h2m4 0h2m8 0h2m1 0h2m3 0h2m3 0h6m1 0h5m13 0h2m13 0h2m42 0h2m11 0h2m-161 1h2m10 0h12m2 0h3m8 0h2m13 0h2m1 0h3m1 0h2m1 0h2m3 0h2m3 0h2m52 0h2m11 0h2m-134 1h4m1 0h4m1 0h13m25 0h2m1 0h8m21 0h2m8 0h2m-96 1h6m2 0h5m2 0h3m1 0h6m27 0h9m2 0h2m13 0h2m7 0h2m-97 1h4m7 0h9m2 0h6m1 0h3m3 0h2m1 0h2m3 0h2m18 0h4m1 0h7m2 0h2m34 0h2m9 0h2m9 0h2m2 0h2m-139 1h2m7 0h8m6 0h7m3 0h2m27 0h12m4 0h2m59 0h2m-145 1h2m2 0h2m10 0h5m6 0h2m4 0h2m8 0h2m15 0h4m1 0h12m7 0h2m19 0h2m3 0h2m39 0h2m-152 1h2m5 0h2m3 0h11m1 0h2m2 0h2m27 0h4m2 0h12m20 0h2m13 0h2m-113 1h2m6 0h2m4 0h7m1 0h4m2 0h4m9 0h2m16 0h2m2 0h2m2 0h4m1 0h5m11 0h2m6 0h2m-86 1h9m3 0h9m2 0h2m29 0h6m3 0h2m27 0h2m16 0h2m13 0h2m6 0h2m-141 1h14m5 0h3m3 0h3m1 0h3m27 0h2m5 0h7m6 0h2m49 0h2m1 0h2m-149 1h2m10 0h2m2 0h2m3 0h4m2 0h2m1 0h6m1 0h3m6 0h4m19 0h2m4 0h2m1 0h6m-78 1h4m4 0h2m14 0h8m4 0h4m1 0h2m5 0h2m16 0h4m1 0h5m1 0h2m12 0h2m13 0h4m19 0h2m-125 1h4m3 0h6m6 0h4m2 0h4m5 0h4m3 0h2m21 0h2m14 0h2m10 0h2m8 0h2m12 0h2m-132 1h2m17 0h9m6 0h4m1 0h2m28 0h2m15 0h2m35 0h2m-112 1h2m5 0h3m2 0h4m4 0h2m1 0h2m1 0h13m8 0h2m16 0h2m4 0h2m16 0h2m-91 1h2m2 0h2m1 0h3m4 0h5m2 0h2m2 0h4m1 0h2m1 0h2m22 0h2m34 0h2m12 0h2m-105 1h8m3 0h5m1 0h7m4 0h2m25 0h2m46 0h2m23 0h2m-138 1h4m3 0h4m2 0h4m2 0h2m1 0h2m4 0h2m1 0h9m21 0h2m40 0h2m9 0h2m-110 1h4m1 0h4m5 0h2m8 0h4m3 0h2m3 0h2m55 0h2m11 0h4m-119 1h2m1 0h2m2 0h3m3 0h2m2 0h2m2 0h2m1 0h2m4 0h2m1 0h4m2 0h4m41 0h2m1 0h2m1 0h2m25 0h2m-113 1h5m1 0h2m1 0h2m1 0h3m1 0h4m2 0h2m3 0h2m3 0h4m24 0h2m52 0h4m-123 1h2m1 0h3m2 0h4m3 0h2m1 0h3m6 0h3m3 0h2m39 0h2m-81 1h2m4 0h2m2 0h5m1 0h4m10 0h4m2 0h4m1 0h2m1 0h3m9 0h2m32 0h2m-85 1h8m2 0h2m6 0h3m4 0h5m24 0h2m8 0h2m23 0h2m8 0h2m-104 1h2m1 0h6m1 0h3m2 0h2m10 0h3m2 0h3m4 0h4m76 0h3m-126 1h2m5 0h2m4 0h2m1 0h2m3 0h13m1 0h4m4 0h2m29 0h2m48 0h2m-119 1h9m2 0h4m7 0h8m2 0h2m1 0h3m28 0h2m23 0h2m17 0h2m-112 1h9m2 0h8m2 0h2m4 0h2m1 0h6m2 0h2m25 0h2m17 0h2m3 0h2m18 0h2m-116 1h4m3 0h2m6 0h5m6 0h12m1 0h2m7 0h2m-44 1h6m5 0h2m8 0h3m3 0h2m1 0h4m4 0h2m9 0h2m-63 1h2m12 0h7m1 0h2m2 0h5m3 0h5m1 0h4m5 0h2m49 0h2m11 0h2m-105 1h4m5 0h5m5 0h3m1 0h3m2 0h2m3 0h5m-42 1h4m5 0h2m8 0h2m2 0h3m1 0h2m1 0h10m26 0h2m2 0h2m6 0h2m11 0h2m5 0h2m-97 1h3m2 0h3m4 0h2m6 0h16m48 0h2m-98 1h2m5 0h2m2 0h2m3 0h4m3 0h2m8 0h10m-33 1h8m5 0h2m7 0h6m2 0h2m1 0h2m3 0h2m-46 1h2m2 0h3m1 0h4m15 0h5m1 0h3m4 0h2m3 0h2m26 0h2m-72 1h6m3 0h2m15 0h3m4 0h2m15 0h2m-54 1h2m3 0h3m3 0h2m8 0h2m2 0h2m1 0h6m2 0h3m5 0h2m-49 1h2m2 0h3m1 0h2m1 0h4m7 0h2m5 0h8m8 0h2m-51 1h3m5 0h6m5 0h4m9 0h7m4 0h2m-37 1h3m2 0h5m6 0h2m9 0h3m5 0h4m-43 1h3m1 0h2m4 0h4m3 0h2m1 0h2m1 0h2m4 0h12m19 0h2m29 0h4m-97 1h2m8 0h9m4 0h4m4 0h6m2 0h3m28 0h2m21 0h2m-89 1h2m3 0h3m2 0h2m4 0h2m2 0h2m3 0h8m-40 1h2m1 0h2m1 0h5m1 0h5m1 0h6m1 0h12m4 0h2m-35 1h5m1 0h2m1 0h2m1 0h2m3 0h4m3 0h2m1 0h3m5 0h4m29 0h2m-79 1h2m1 0h2m1 0h3m2 0h2m1 0h2m2 0h5m7 0h7m1 0h2m3 0h5m-43 1h4m3 0h2m3 0h2m2 0h2m4 0h2m3 0h2m1 0h4m-39 1h2m7 0h2m1 0h4m5 0h3m4 0h2m1 0h3m1 0h2m-32 1h3m1 0h2m12 0h2m6 0h2m-30 1h8m6 0h2m-19 1h2m2 0h4m3 0h4m2 0h2m10 0h4m2 0h2m2 0h2m-38 1h6m1 0h5m2 0h3m12 0h2m41 0h2m-81 1h2m4 0h4m2 0h6m9 0h3m6 0h2m8 0h2m-42 1h2m4 0h2m1 0h3m4 0h2m2 0h2m2 0h2m1 0h2m-29 1h2m1 0h5m1 0h8m8 0h2m5 0h2m1 0h2m15 0h2m-62 1h2m1 0h2m1 0h2m3 0h5m4 0h6m15 0h2m-39 1h3m5 0h2m1 0h3m2 0h2m-15 1h2m1 0h4m2 0h6m11 0h3m-32 1h2m1 0h3m3 0h2m1 0h4m14 0h2m-28 1h5m2 0h4m2 0h2m10 0h2m-28 1h4m4 0h2m15 0h3m-28 1h3m1 0h3m1 0h3m12 0h2m-28 1h2m3 0h4m1 0h2m-9 1h4m1 0h3m5 0h2m8 0h2m-28 1h15m-16 1h2m2 0h3m1 0h3m6 0h2m-22 1h2m3 0h3m2 0h2m39 0h2m-48 1h6m3 0h2m-15 1h2m3 0h5m13 0h2m21 0h2m-49 1h2m2 0h12m-17 1h2m1 0h9m1 0h2m2 0h2m10 0h2m-30 1h3m2 0h7m3 0h2m2 0h2m-23 1h2m1 0h3m1 0h5m1 0h2m-13 1h5m2 0h5m-19 1h2m4 0h2m2 0h3m2 0h2m-10 1h2m2 0h2m3 0h2m-14 1h2m2 0h4m8 0h2m-20 1h2m2 0h2m2 0h4m-15 1h3m2 0h10m3 0h2m1 0h2m-17 1h3m7 0h4m-15 1h2m6 0h4m-17 1h5m1 0h2m-3 1h6m-7 1h2m1 0h6m-12 1h3m4 0h3m2 0h2m2 0h2m-21 1h2m2 0h2m3 0h2m-10 1h12m-12 1h12m-13 1h2m1 0h7m-10 1h7m5 0h2m-9 1h4m-8 1h3m1 0h2m-7 1h5m-6 1h7m-8 1h2m2 0h3m-8 1h4m-4 1h2m-3 1h2" stroke="#1a38f6" stroke-opacity="0.72" stroke-width="2" fill="none"/>
<path transform="scale(.5)" d="m805 673h2m-2 1h3m0 1h2m-5 1h2m-3 1h5m1 0h2m-7 1h2m2 0h5m-5 1h2m0 1h2m-3 1h7m-7 1h3m1 0h2m1 0h2m-5 1h2m2 0h2m-29 1h2m24 0h7m-9 1h2m1 0h3m1 0h2m-42 1h2m6 0h4m1 0h2m18 0h2m1 0h4m-31 1h2m2 0h3m19 0h2m1 0h2m2 0h2m-3 1h2m1 0h2m-33 1h2m22 0h2m1 0h8m-34 1h4m16 0h2m6 0h3m-1 1h2m2 0h2m-42 1h2m31 0h4m5 0h2m-38 1h2m28 0h2m4 0h4m-42 1h2m32 0h5m1 0h2m-47 1h2m11 0h2m25 0h2m4 0h3m-44 1h2m39 0h2m1 0h2m-48 1h2m3 0h2m33 0h2m3 0h2m-48 1h2m1 0h3m43 0h2m-51 1h2m5 0h2m40 0h4m-53 1h2m3 0h2m10 0h2m20 0h2m8 0h5m-50 1h5m39 0h4m3 0h2m-55 1h2m2 0h3m3 0h3m31 0h4m1 0h2m2 0h2m-53 1h5m28 0h2m1 0h4m3 0h2m1 0h2m-52 1h2m1 0h7m34 0h4m4 0h2m3 0h3m-51 1h4m3 0h2m18 0h2m5 0h4m2 0h4m1 0h7m-60 1h2m1 0h5m3 0h2m16 0h2m2 0h2m8 0h2m1 0h9m6 0h2m-80 1h2m16 0h3m2 0h2m1 0h5m21 0h2m21 0h5m-60 1h10m28 0h2m2 0h3m2 0h2m9 0h3m-62 1h9m23 0h3m1 0h4m2 0h4m3 0h3m5 0h2m1 0h3m-67 1h2m2 0h2m3 0h4m2 0h2m19 0h2m2 0h6m1 0h2m1 0h2m2 0h2m1 0h2m4 0h4m1 0h2m-65 1h9m2 0h2m15 0h5m2 0h7m1 0h3m1 0h2m9 0h5m1 0h2m-71 1h2m3 0h9m15 0h2m3 0h3m1 0h13m9 0h13m-81 1h2m10 0h2m1 0h2m1 0h4m2 0h2m11 0h2m3 0h2m1 0h2m2 0h10m3 0h2m11 0h2m3 0h3m-72 1h3m1 0h2m2 0h4m1 0h2m16 0h14m1 0h4m13 0h2m5 0h2m-75 1h2m6 0h6m14 0h2m2 0h12m2 0h2m2 0h2m15 0h6m-73 1h2m2 0h2m1 0h7m1 0h2m11 0h2m2 0h13m1 0h4m22 0h2m2 0h2m-75 1h2m3 0h8m11 0h4m2 0h5m2 0h3m1 0h2m1 0h2m1 0h2m4 0h2m12 0h2m5 0h3m-80 1h2m2 0h2m1 0h6m1 0h3m9 0h6m1 0h2m2 0h5m1 0h5m2 0h2m1 0h2m14 0h11m-71 1h5m1 0h2m9 0h2m3 0h2m1 0h13m29 0h7m-79 1h2m1 0h10m8 0h9m3 0h5m2 0h6m13 0h2m2 0h3m1 0h5m1 0h6m-78 1h5m1 0h5m9 0h5m1 0h11m4 0h2m2 0h2m7 0h2m9 0h6m1 0h8m-82 1h4m3 0h5m1 0h2m8 0h2m1 0h17m1 0h2m16 0h3m1 0h18m-79 1h9m4 0h2m2 0h16m1 0h2m11 0h2m8 0h2m2 0h5m1 0h12m-84 1h2m3 0h5m2 0h2m5 0h2m2 0h3m1 0h3m1 0h6m1 0h3m1 0h2m18 0h2m1 0h21m-94 1h2m12 0h7m8 0h2m1 0h15m1 0h2m1 0h2m14 0h2m1 0h3m1 0h4m2 0h6m2 0h2m2 0h2m-82 1h5m1 0h2m2 0h2m3 0h9m1 0h2m1 0h6m22 0h15m8 0h3m-81 1h8m8 0h2m1 0h3m1 0h2m1 0h12m11 0h2m6 0h14m1 0h2m3 0h4m2 0h2m-102 1h2m6 0h2m7 0h3m1 0h4m13 0h12m1 0h3m2 0h2m3 0h2m7 0h14m2 0h3m8 0h5m-90 1h2m8 0h5m4 0h6m2 0h11m6 0h2m2 0h2m9 0h18m1 0h2m1 0h2m3 0h7m-96 1h2m7 0h10m4 0h4m1 0h3m4 0h8m7 0h3m4 0h3m2 0h18m2 0h2m7 0h3m1 0h2m-87 1h2m11 0h2m1 0h2m1 0h11m12 0h3m5 0h15m4 0h2m10 0h2m2 0h4m-92 1h8m7 0h5m1 0h7m3 0h2m10 0h2m3 0h2m3 0h2m2 0h14m1 0h2m15 0h2m-89 1h7m3 0h20m10 0h2m4 0h2m1 0h2m1 0h11m2 0h5m3 0h2m8 0h2m1 0h3m1 0h2m-123 1h2m17 0h2m13 0h2m1 0h3m7 0h4m1 0h3m2 0h4m9 0h2m5 0h2m2 0h11m1 0h3m19 0h8m1 0h2m-128 1h2m22 0h2m6 0h2m2 0h3m1 0h4m1 0h2m6 0h2m1 0h3m1 0h3m8 0h2m7 0h20m14 0h2m1 0h4m4 0h4m-102 1h2m2 0h2m1 0h2m4 0h2m2 0h6m4 0h3m3 0h2m6 0h3m10 0h3m1 0h2m3 0h2m27 0h2m4 0h5m-107 1h3m7 0h3m3 0h2m2 0h3m4 0h4m3 0h3m8 0h4m10 0h9m1 0h4m1 0h2m24 0h3m2 0h3m-108 1h2m1 0h2m2 0h2m15 0h3m2 0h2m9 0h2m2 0h5m1 0h2m3 0h2m3 0h7m4 0h3m29 0h2m3 0h2m-103 1h6m8 0h2m1 0h2m1 0h2m1 0h9m7 0h2m4 0h2m1 0h4m10 0h3m30 0h2m4 0h4m-129 1h2m16 0h2m4 0h4m3 0h2m9 0h3m17 0h3m4 0h3m2 0h8m1 0h2m1 0h4m21 0h2m9 0h4m1 0h3m-113 1h3m6 0h4m7 0h4m5 0h3m1 0h2m10 0h2m6 0h2m1 0h2m7 0h2m3 0h2m32 0h2m5 0h3m-108 1h2m1 0h3m7 0h2m7 0h3m13 0h2m4 0h2m2 0h3m4 0h2m1 0h2m6 0h2m29 0h5m5 0h2m-108 1h2m3 0h2m5 0h2m2 0h3m2 0h5m9 0h2m4 0h2m1 0h2m3 0h2m4 0h2m29 0h2m5 0h2m5 0h8m-115 1h3m3 0h2m5 0h2m3 0h2m1 0h2m7 0h2m2 0h4m5 0h2m3 0h5m12 0h6m3 0h2m3 0h2m9 0h2m12 0h15m-116 1h2m17 0h2m4 0h2m5 0h2m4 0h5m3 0h4m6 0h2m3 0h5m37 0h3m2 0h8m-113 1h4m20 0h4m8 0h2m4 0h2m5 0h5m3 0h5m30 0h2m1 0h9m3 0h9m-120 1h3m16 0h2m6 0h2m8 0h2m2 0h3m5 0h3m6 0h7m32 0h2m1 0h2m2 0h8m1 0h7m-114 1h2m16 0h3m1 0h3m4 0h7m1 0h5m6 0h3m3 0h6m4 0h2m9 0h2m6 0h2m8 0h15m1 0h2m1 0h3m-121 1h2m11 0h2m2 0h2m16 0h5m1 0h2m1 0h3m7 0h11m29 0h2m1 0h5m1 0h2m1 0h2m1 0h4m1 0h4m1 0h5m-143 1h2m17 0h2m4 0h2m8 0h2m7 0h3m9 0h2m2 0h8m3 0h2m1 0h9m14 0h2m17 0h2m1 0h16m2 0h5m-142 1h2m15 0h2m4 0h2m2 0h2m3 0h4m16 0h12m6 0h2m1 0h9m14 0h5m13 0h22m1 0h2m4 0h2m-143 1h2m22 0h2m5 0h3m7 0h2m3 0h13m1 0h4m5 0h10m14 0h2m11 0h2m5 0h6m1 0h6m9 0h5m2 0h2m-113 1h2m1 0h2m6 0h2m4 0h7m5 0h2m6 0h8m17 0h3m14 0h7m1 0h2m1 0h4m3 0h6m1 0h2m3 0h3m1 0h2m-125 1h2m16 0h2m5 0h2m2 0h2m1 0h4m1 0h4m4 0h11m16 0h2m17 0h5m1 0h7m8 0h2m2 0h2m2 0h4m-133 1h2m2 0h2m13 0h4m8 0h17m3 0h13m24 0h2m6 0h4m2 0h5m3 0h6m4 0h2m4 0h2m3 0h4m-140 1h2m1 0h2m4 0h2m6 0h2m5 0h2m5 0h2m6 0h4m2 0h4m1 0h2m9 0h8m11 0h2m11 0h7m7 0h2m1 0h8m2 0h2m12 0h3m3 0h4m-130 1h6m7 0h2m11 0h3m2 0h2m1 0h7m2 0h11m10 0h5m16 0h2m4 0h3m3 0h2m4 0h2m1 0h2m4 0h2m10 0h6m-131 1h3m21 0h2m1 0h8m2 0h2m2 0h10m29 0h2m2 0h13m1 0h3m6 0h2m12 0h2m1 0h2m1 0h3m-165 1h2m28 0h2m3 0h5m4 0h2m6 0h3m4 0h8m2 0h16m11 0h5m6 0h2m2 0h3m13 0h2m3 0h3m5 0h2m2 0h2m18 0h4m1 0h2m-163 1h2m7 0h2m12 0h3m2 0h2m6 0h2m3 0h2m9 0h5m1 0h8m2 0h9m8 0h2m2 0h2m6 0h4m6 0h4m8 0h2m2 0h2m3 0h3m23 0h2m2 0h4m-164 1h2m24 0h2m1 0h3m8 0h2m10 0h7m2 0h5m2 0h6m4 0h2m9 0h2m1 0h2m5 0h4m7 0h4m42 0h2m1 0h2m1 0h4m-155 1h2m16 0h3m5 0h2m5 0h2m9 0h8m6 0h11m5 0h4m7 0h2m4 0h2m1 0h6m3 0h3m1 0h2m2 0h2m27 0h2m9 0h5m-171 1h2m28 0h2m1 0h3m4 0h4m4 0h2m5 0h10m3 0h3m3 0h4m13 0h2m5 0h2m8 0h4m1 0h2m11 0h3m4 0h2m34 0h2m-173 1h2m34 0h2m7 0h2m8 0h4m1 0h2m2 0h7m2 0h8m7 0h5m6 0h3m3 0h2m3 0h3m9 0h4m1 0h4m2 0h2m21 0h2m17 0h2m-146 1h2m4 0h2m3 0h3m2 0h5m3 0h6m1 0h5m5 0h3m1 0h2m10 0h4m6 0h2m4 0h10m10 0h2m23 0h2m10 0h2m2 0h2m1 0h2m2 0h2m2 0h2m-146 1h2m3 0h2m2 0h5m4 0h2m4 0h10m1 0h4m6 0h2m9 0h3m4 0h2m1 0h2m2 0h6m6 0h2m5 0h6m2 0h2m4 0h2m34 0h2m1 0h2m-142 1h2m6 0h3m4 0h8m1 0h3m1 0h2m5 0h8m16 0h4m1 0h8m1 0h2m1 0h2m1 0h2m15 0h2m1 0h2m11 0h4m21 0h2m3 0h5m-183 1h2m10 0h2m17 0h4m9 0h3m1 0h4m4 0h4m4 0h2m8 0h2m9 0h4m4 0h5m2 0h2m6 0h8m4 0h2m7 0h2m14 0h4m25 0h2m3 0h5m-163 1h2m9 0h3m10 0h2m1 0h4m5 0h2m1 0h2m2 0h2m1 0h2m2 0h4m7 0h2m13 0h2m1 0h10m1 0h3m3 0h2m19 0h2m3 0h2m3 0h3m2 0h2m23 0h4m-144 1h2m2 0h4m2 0h2m8 0h6m1 0h3m4 0h3m15 0h18m1 0h5m12 0h2m2 0h5m7 0h3m5 0h2m1 0h2m3 0h2m19 0h3m1 0h5m-163 1h2m15 0h2m3 0h4m3 0h2m2 0h2m8 0h7m8 0h2m5 0h7m1 0h6m1 0h8m13 0h2m1 0h5m3 0h2m2 0h2m1 0h2m2 0h2m2 0h4m27 0h3m1 0h2m-166 1h2m7 0h3m1 0h4m4 0h2m2 0h3m2 0h2m8 0h2m3 0h2m9 0h3m9 0h5m7 0h8m2 0h4m11 0h2m1 0h5m5 0h6m2 0h2m5 0h2m23 0h3m2 0h3m-172 1h2m7 0h2m8 0h2m9 0h2m8 0h2m7 0h5m6 0h2m7 0h2m5 0h4m1 0h11m1 0h2m1 0h3m9 0h3m7 0h2m4 0h2m1 0h3m32 0h2m3 0h2m3 0h2m-160 1h2m7 0h4m1 0h2m4 0h2m1 0h2m1 0h2m6 0h3m6 0h6m6 0h2m2 0h8m2 0h8m3 0h5m8 0h2m2 0h2m1 0h2m1 0h5m9 0h5m1 0h2m30 0h7m-175 1h2m24 0h2m1 0h2m3 0h2m1 0h4m3 0h2m11 0h5m7 0h4m3 0h5m1 0h5m2 0h3m16 0h2m3 0h7m5 0h2m4 0h2m32 0h2m8 0h2m-172 1h2m6 0h3m2 0h2m3 0h2m3 0h2m1 0h6m1 0h8m1 0h2m5 0h4m5 0h2m2 0h4m4 0h2m2 0h13m17 0h2m5 0h2m1 0h3m7 0h2m36 0h2m1 0h2m1 0h5m-163 1h2m5 0h2m1 0h5m2 0h7m1 0h3m1 0h4m11 0h2m1 0h2m2 0h3m3 0h17m8 0h2m1 0h2m5 0h7m4 0h2m10 0h2m9 0h2m20 0h2m6 0h2m2 0h3m-161 1h3m1 0h4m1 0h3m2 0h3m1 0h3m6 0h3m5 0h2m14 0h2m3 0h2m2 0h11m1 0h2m6 0h2m5 0h2m11 0h7m1 0h3m1 0h2m46 0h2m-193 1h2m26 0h3m4 0h8m1 0h4m2 0h2m3 0h4m5 0h2m10 0h2m4 0h5m2 0h9m2 0h4m6 0h2m2 0h2m13 0h2m5 0h2m45 0h2m9 0h2m-173 1h2m3 0h5m3 0h8m1 0h2m1 0h2m5 0h3m5 0h4m1 0h2m3 0h4m2 0h2m1 0h2m1 0h7m1 0h5m2 0h4m7 0h2m6 0h3m2 0h2m7 0h2m3 0h2m51 0h2m-181 1h2m6 0h2m8 0h6m2 0h6m3 0h3m3 0h3m4 0h3m4 0h2m9 0h2m2 0h14m1 0h5m3 0h7m18 0h2m4 0h2m12 0h2m38 0h2m2 0h3m-179 1h2m1 0h2m2 0h6m4 0h15m1 0h3m4 0h4m7 0h2m6 0h2m3 0h2m1 0h10m1 0h2m4 0h4m88 0h6m-183 1h2m12 0h19m1 0h3m1 0h2m1 0h3m1 0h2m5 0h2m9 0h4m3 0h3m2 0h13m10 0h2m12 0h2m30 0h2m13 0h2m4 0h2m7 0h9m-203 1h2m16 0h2m1 0h2m1 0h2m5 0h2m4 0h4m1 0h4m2 0h5m6 0h2m2 0h2m1 0h4m1 0h2m1 0h2m5 0h2m1 0h8m1 0h2m1 0h5m2 0h2m1 0h2m18 0h2m45 0h2m4 0h3m2 0h2m2 0h2m6 0h9m-213 1h2m9 0h2m11 0h2m1 0h4m3 0h3m2 0h18m1 0h4m4 0h2m8 0h2m8 0h3m1 0h16m10 0h2m54 0h2m11 0h3m10 0h7m1 0h10m-206 1h2m10 0h4m4 0h2m1 0h8m1 0h4m1 0h2m1 0h3m1 0h8m1 0h5m20 0h4m1 0h5m1 0h3m6 0h2m1 0h2m49 0h2m3 0h2m2 0h2m2 0h4m6 0h3m3 0h3m7 0h2m8 0h5m-196 1h3m9 0h2m2 0h2m1 0h4m1 0h17m2 0h3m18 0h2m1 0h2m1 0h2m1 0h3m1 0h8m9 0h2m43 0h2m3 0h2m2 0h2m1 0h2m2 0h2m2 0h6m3 0h8m2 0h3m4 0h9m1 0h3m-207 1h2m20 0h4m2 0h21m1 0h4m5 0h2m2 0h5m9 0h11m2 0h3m48 0h4m10 0h2m6 0h3m1 0h8m1 0h8m2 0h6m1 0h3m4 0h2m4 0h2m-203 1h2m13 0h3m5 0h11m1 0h6m2 0h6m7 0h2m3 0h3m9 0h5m5 0h2m2 0h2m30 0h2m2 0h2m2 0h2m1 0h3m5 0h2m1 0h2m1 0h2m5 0h2m3 0h2m2 0h4m1 0h6m1 0h10m1 0h2m2 0h9m1 0h4m1 0h2m-208 1h2m4 0h2m5 0h2m4 0h2m2 0h2m1 0h2m1 0h3m1 0h16m5 0h2m15 0h4m50 0h2m1 0h2m3 0h4m2 0h2m1 0h9m2 0h2m1 0h3m2 0h23m1 0h8m2 0h2m3 0h2m1 0h3m-196 1h3m7 0h2m1 0h23m3 0h2m7 0h4m3 0h5m6 0h2m6 0h2m3 0h4m22 0h2m2 0h2m9 0h2m2 0h2m1 0h3m1 0h3m2 0h2m1 0h2m1 0h5m4 0h4m2 0h11m1 0h4m2 0h2m2 0h2m1 0h2m11 0h2m-209 1h2m8 0h2m7 0h2m4 0h7m1 0h16m1 0h2m4 0h4m7 0h2m1 0h3m10 0h2m20 0h2m9 0h2m2 0h3m18 0h2m3 0h3m1 0h2m4 0h23m1 0h3m1 0h2m2 0h2m1 0h2m5 0h2m9 0h2m-207 1h2m6 0h2m4 0h3m1 0h2m1 0h3m1 0h5m1 0h5m1 0h8m3 0h3m10 0h2m10 0h2m2 0h2m22 0h4m6 0h2m2 0h9m2 0h4m3 0h2m1 0h3m11 0h2m5 0h5m1 0h4m1 0h12m1 0h3m3 0h4m3 0h2m14 0h2m-215 1h2m8 0h2m1 0h2m4 0h2m2 0h32m4 0h2m15 0h2m10 0h2m6 0h2m1 0h2m1 0h5m1 0h4m6 0h3m2 0h2m2 0h2m24 0h2m1 0h21m1 0h4m1 0h3m-185 1h5m3 0h2m2 0h7m1 0h2m1 0h25m1 0h2m1 0h2m7 0h2m14 0h2m9 0h2m1 0h7m2 0h2m1 0h2m5 0h2m2 0h4m20 0h4m8 0h26m6 0h2m2 0h3m-195 1h2m3 0h2m6 0h3m1 0h3m3 0h24m2 0h6m20 0h2m3 0h2m1 0h2m2 0h14m2 0h2m11 0h2m5 0h2m24 0h4m2 0h2m1 0h16m1 0h2m1 0h2m3 0h2m2 0h2m3 0h2m8 0h2m-213 1h2m21 0h13m1 0h21m1 0h4m26 0h8m1 0h3m1 0h6m4 0h2m4 0h2m23 0h2m13 0h6m1 0h19m8 0h2m12 0h2m-194 1h2m6 0h5m1 0h7m1 0h23m1 0h2m6 0h2m7 0h4m3 0h5m2 0h2m3 0h2m3 0h2m28 0h3m3 0h2m1 0h2m14 0h6m4 0h3m3 0h6m1 0h5m4 0h3m7 0h3m-184 1h2m1 0h13m1 0h4m2 0h20m2 0h2m2 0h4m1 0h2m4 0h13m43 0h2m2 0h2m5 0h2m2 0h2m9 0h2m6 0h3m3 0h2m10 0h2m-173 1h2m2 0h2m1 0h2m3 0h5m1 0h42m2 0h2m3 0h2m53 0h2m4 0h2m4 0h2m9 0h2m3 0h3m-152 1h2m7 0h2m2 0h21m1 0h7m1 0h5m1 0h2m3 0h4m5 0h2m38 0h2m11 0h3m2 0h9m1 0h2m5 0h2m5 0h2m1 0h2m7 0h2m-166 1h3m5 0h2m2 0h2m2 0h3m3 0h29m1 0h4m63 0h12m1 0h3m1 0h7m1 0h2m6 0h2m13 0h2m-163 1h5m2 0h5m1 0h2m2 0h2m2 0h16m2 0h9m3 0h2m18 0h2m5 0h2m6 0h2m14 0h2m5 0h17m1 0h8m4 0h2m62 0h2m12 0h2m-221 1h4m4 0h3m2 0h2m2 0h6m2 0h33m1 0h2m1 0h2m3 0h4m7 0h2m3 0h2m3 0h4m14 0h28m1 0h2m1 0h3m41 0h2m-185 1h3m2 0h2m2 0h2m2 0h8m1 0h26m1 0h3m2 0h3m7 0h2m5 0h7m1 0h2m2 0h3m17 0h7m3 0h11m2 0h17m1 0h2m3 0h3m2 0h3m1 0h2m6 0h2m15 0h2m31 0h2m-232 1h2m13 0h2m5 0h4m3 0h9m1 0h17m1 0h4m2 0h3m3 0h6m3 0h2m25 0h2m2 0h2m11 0h24m1 0h2m2 0h2m2 0h3m17 0h2m1 0h2m1 0h2m3 0h2m16 0h2m1 0h2m20 0h2m-211 1h2m2 0h8m1 0h2m1 0h18m1 0h2m1 0h2m4 0h10m3 0h2m34 0h2m3 0h5m4 0h6m1 0h13m11 0h2m11 0h2m19 0h2m13 0h2m6 0h4m-204 1h6m1 0h3m4 0h3m1 0h19m2 0h2m1 0h3m5 0h2m1 0h2m3 0h2m2 0h12m30 0h2m8 0h14m1 0h4m2 0h4m7 0h2m15 0h2m6 0h2m36 0h2m-210 1h2m1 0h4m2 0h2m4 0h23m3 0h2m4 0h2m7 0h2m6 0h6m3 0h5m1 0h2m9 0h2m12 0h2m3 0h2m2 0h7m1 0h5m15 0h2m6 0h2m-150 1h2m4 0h2m1 0h2m1 0h6m1 0h17m1 0h4m1 0h4m1 0h4m1 0h2m2 0h3m4 0h2m14 0h2m2 0h2m1 0h5m5 0h2m9 0h2m2 0h6m1 0h2m1 0h3m8 0h2m49 0h2m-193 1h2m19 0h2m1 0h2m3 0h2m1 0h5m1 0h3m2 0h7m9 0h2m1 0h4m12 0h4m3 0h2m1 0h2m4 0h3m2 0h2m2 0h3m1 0h2m5 0h4m55 0h2m9 0h2m-182 1h2m7 0h2m3 0h2m2 0h25m3 0h2m3 0h2m4 0h4m5 0h2m1 0h2m3 0h2m1 0h6m13 0h2m2 0h6m11 0h2m35 0h2m-171 1h2m18 0h2m4 0h3m9 0h6m1 0h2m2 0h5m2 0h2m2 0h2m12 0h3m6 0h4m3 0h3m3 0h5m1 0h4m1 0h2m5 0h2m1 0h4m1 0h2m6 0h2m2 0h2m28 0h2m-143 1h2m5 0h22m3 0h2m1 0h3m4 0h4m3 0h2m9 0h3m2 0h2m4 0h2m2 0h2m1 0h4m1 0h2m6 0h4m4 0h3m1 0h2m59 0h2m-172 1h2m1 0h2m1 0h2m1 0h2m5 0h11m4 0h4m4 0h5m12 0h2m1 0h3m2 0h2m3 0h2m8 0h4m7 0h2m3 0h2m2 0h2m2 0h2m1 0h2m6 0h2m2 0h11m-132 1h2m3 0h2m4 0h6m1 0h10m6 0h6m2 0h2m3 0h2m3 0h2m15 0h2m1 0h2m3 0h4m15 0h3m1 0h2m4 0h5m1 0h5m13 0h4m13 0h2m9 0h2m-146 1h3m2 0h2m1 0h8m1 0h5m1 0h2m4 0h6m4 0h2m2 0h2m9 0h2m2 0h10m5 0h8m10 0h6m2 0h2m1 0h2m4 0h2m7 0h5m2 0h6m9 0h2m-146 1h11m1 0h7m1 0h2m1 0h3m1 0h7m1 0h2m4 0h2m1 0h2m13 0h2m2 0h5m2 0h2m1 0h8m2 0h4m14 0h2m1 0h2m2 0h7m3 0h2m11 0h7m1 0h4m1 0h5m-172 1h2m17 0h6m8 0h16m1 0h3m8 0h2m3 0h2m12 0h2m4 0h2m3 0h6m4 0h4m1 0h3m22 0h2m11 0h2m14 0h2m3 0h2m7 0h2m-157 1h4m2 0h2m1 0h2m1 0h6m2 0h4m2 0h2m5 0h5m27 0h3m4 0h5m3 0h8m2 0h2m22 0h2m13 0h3m2 0h2m15 0h2m20 0h2m-197 1h2m20 0h2m11 0h5m1 0h3m3 0h4m3 0h5m6 0h2m21 0h4m1 0h2m10 0h2m1 0h6m28 0h2m15 0h2m-143 1h2m6 0h2m5 0h6m1 0h8m6 0h2m1 0h3m5 0h2m5 0h2m12 0h2m6 0h4m1 0h2m3 0h7m9 0h2m20 0h2m1 0h2m53 0h2m-181 1h2m1 0h4m5 0h8m2 0h6m7 0h2m8 0h2m4 0h2m2 0h2m3 0h2m5 0h2m3 0h2m6 0h2m1 0h7m7 0h2m10 0h2m15 0h2m11 0h2m4 0h2m6 0h2m14 0h2m7 0h2m-185 1h2m7 0h3m4 0h15m5 0h4m10 0h3m2 0h2m15 0h2m11 0h3m4 0h2m5 0h2m3 0h4m28 0h2m10 0h2m-139 1h6m1 0h10m3 0h2m3 0h2m1 0h4m3 0h2m3 0h2m8 0h3m2 0h2m15 0h2m5 0h2m1 0h2m7 0h2m5 0h2m34 0h2m-140 1h2m1 0h2m4 0h13m9 0h3m11 0h3m2 0h2m17 0h2m15 0h2m-94 1h2m3 0h2m1 0h16m3 0h2m12 0h3m1 0h2m14 0h2m9 0h2m9 0h4m7 0h2m41 0h2m-134 1h2m1 0h2m1 0h13m1 0h2m1 0h3m2 0h2m7 0h2m10 0h2m11 0h2m20 0h2m14 0h2m1 0h2m32 0h2m-143 1h2m1 0h6m2 0h6m1 0h9m10 0h2m3 0h2m3 0h2m5 0h2m3 0h2m31 0h2m20 0h2m-116 1h2m6 0h14m4 0h2m12 0h4m79 0h2m5 0h2m-127 1h2m3 0h2m1 0h4m2 0h2m3 0h3m16 0h2m6 0h2m11 0h2m7 0h2m-82 1h2m3 0h21m1 0h2m2 0h2m5 0h2m6 0h2m2 0h2m23 0h2m7 0h4m3 0h2m8 0h2m-94 1h2m4 0h15m6 0h2m11 0h2m13 0h2m11 0h2m56 0h3m-129 1h5m2 0h16m14 0h2m3 0h2m2 0h2m21 0h2m1 0h2m7 0h2m69 0h2m-165 1h2m8 0h5m1 0h5m1 0h6m3 0h2m7 0h2m18 0h2m12 0h5m2 0h2m17 0h2m52 0h2m-154 1h4m1 0h2m2 0h8m6 0h2m2 0h7m13 0h2m2 0h3m3 0h2m2 0h4m7 0h2m21 0h2m11 0h2m-111 1h4m8 0h8m1 0h2m2 0h3m3 0h2m21 0h2m1 0h2m1 0h3m2 0h2m7 0h2m25 0h2m-104 1h2m3 0h2m4 0h2m3 0h3m1 0h7m1 0h5m6 0h3m8 0h2m3 0h2m1 0h3m2 0h4m1 0h2m24 0h3m32 0h2m-140 1h2m5 0h2m1 0h2m5 0h4m3 0h9m1 0h5m1 0h2m21 0h8m6 0h2m9 0h2m45 0h2m1 0h2m1 0h2m-133 1h2m1 0h2m3 0h2m2 0h2m10 0h6m3 0h2m18 0h8m1 0h5m2 0h2m15 0h3m-89 1h3m7 0h7m1 0h9m3 0h2m11 0h2m3 0h6m1 0h4m1 0h5m1 0h3m3 0h2m4 0h2m-76 1h6m3 0h2m2 0h2m1 0h4m2 0h5m5 0h2m10 0h2m7 0h3m2 0h3m3 0h3m17 0h2m36 0h2m17 0h2m-150 1h2m5 0h5m1 0h2m4 0h2m1 0h6m3 0h6m22 0h7m2 0h2m7 0h2m16 0h2m16 0h2m-115 1h5m4 0h19m2 0h2m2 0h3m17 0h2m1 0h13m1 0h4m20 0h2m6 0h2m9 0h2m18 0h2m-134 1h2m1 0h3m2 0h12m5 0h3m1 0h2m2 0h2m16 0h2m2 0h2m1 0h2m1 0h3m1 0h3m2 0h2m11 0h2m11 0h2m47 0h2m-144 1h2m1 0h8m3 0h3m4 0h2m2 0h2m22 0h2m2 0h11m1 0h4m39 0h2m-119 1h2m4 0h2m1 0h2m1 0h5m3 0h8m3 0h2m2 0h2m20 0h2m5 0h2m1 0h6m1 0h2m55 0h2m-140 1h2m12 0h3m1 0h2m7 0h3m9 0h2m25 0h2m15 0h2m7 0h2m20 0h2m16 0h2m-124 1h2m6 0h10m5 0h4m11 0h2m16 0h2m5 0h6m1 0h3m15 0h2m32 0h2m7 0h2m-145 1h2m8 0h2m1 0h2m3 0h5m4 0h2m6 0h2m5 0h2m2 0h2m32 0h2m41 0h2m12 0h2m-128 1h2m6 0h8m1 0h2m1 0h2m2 0h4m1 0h2m1 0h3m29 0h2m21 0h2m-92 1h2m2 0h2m2 0h3m5 0h5m1 0h4m1 0h2m1 0h2m4 0h2m30 0h2m1 0h2m14 0h4m31 0h2m-121 1h4m3 0h5m4 0h3m3 0h5m2 0h2m25 0h2m8 0h2m21 0h2m24 0h2m-121 1h2m2 0h2m1 0h10m2 0h2m3 0h2m43 0h2m-72 1h2m1 0h2m4 0h3m2 0h2m1 0h7m2 0h3m4 0h2m5 0h2m72 0h2m10 0h2m-129 1h2m3 0h2m2 0h3m1 0h7m2 0h2m3 0h12m3 0h2m13 0h2m36 0h2m35 0h2m-127 1h6m1 0h6m8 0h2m1 0h2m1 0h2m1 0h2m19 0h2m10 0h2m46 0h2m-122 1h5m2 0h2m3 0h2m1 0h2m4 0h2m4 0h2m1 0h8m4 0h2m37 0h3m-78 1h5m1 0h2m4 0h3m1 0h2m3 0h2m1 0h5m29 0h2m2 0h2m53 0h2m-128 1h2m4 0h3m2 0h5m13 0h3m1 0h6m1 0h2m29 0h2m18 0h2m9 0h2m21 0h3m-130 1h2m4 0h3m2 0h9m1 0h4m3 0h2m4 0h2m1 0h5m6 0h2m-42 1h8m1 0h2m7 0h2m3 0h5m2 0h6m-34 1h10m2 0h4m1 0h5m1 0h2m4 0h9m25 0h2m11 0h2m-85 1h6m1 0h6m4 0h4m3 0h5m3 0h3m1 0h3m20 0h2m8 0h2m25 0h2m11 0h2m-114 1h4m1 0h2m1 0h3m1 0h6m1 0h5m1 0h2m3 0h6m2 0h5m29 0h2m18 0h2m21 0h2m-113 1h2m1 0h3m2 0h2m10 0h2m2 0h2m2 0h7m2 0h2m1 0h3m3 0h2m42 0h2m17 0h3m-117 1h5m1 0h2m2 0h3m11 0h2m1 0h6m1 0h8m7 0h2m39 0h2m-86 1h2m3 0h8m1 0h2m7 0h2m5 0h3m1 0h2m4 0h2m23 0h2m-72 1h4m4 0h2m1 0h4m1 0h3m1 0h2m1 0h2m1 0h4m1 0h10m5 0h2m30 0h2m18 0h2m-94 1h8m1 0h2m3 0h2m6 0h4m2 0h6m3 0h2m23 0h2m-70 1h2m3 0h8m1 0h3m5 0h2m2 0h3m1 0h4m1 0h3m2 0h2m1 0h2m27 0h2m23 0h2m9 0h2m-109 1h2m2 0h2m1 0h7m7 0h2m3 0h2m3 0h2m2 0h3m-38 1h5m5 0h2m2 0h4m2 0h2m11 0h4m1 0h2m2 0h2m37 0h2m-83 1h3m3 0h2m1 0h5m2 0h2m9 0h6m1 0h5m62 0h2m-109 1h2m3 0h10m1 0h8m1 0h4m1 0h2m2 0h2m2 0h5m2 0h2m-37 1h4m5 0h4m4 0h2m2 0h2m1 0h5m-35 1h2m2 0h2m4 0h7m11 0h5m2 0h2m3 0h2m23 0h2m11 0h2m-80 1h2m3 0h3m2 0h3m1 0h2m2 0h3m3 0h7m1 0h4m2 0h2m-39 1h9m4 0h4m6 0h8m1 0h2m1 0h3m2 0h2m-42 1h2m1 0h6m3 0h3m7 0h2m1 0h14m15 0h2m-59 1h2m1 0h4m5 0h3m1 0h2m2 0h2m2 0h9m1 0h4m-40 1h2m2 0h2m1 0h2m2 0h2m4 0h2m2 0h2m6 0h2m5 0h3m1 0h2m-41 1h5m2 0h2m2 0h2m2 0h2m5 0h2m7 0h5m4 0h2m-42 1h4m1 0h4m5 0h2m3 0h2m5 0h2m1 0h2m4 0h5m8 0h2m-55 1h2m5 0h3m6 0h2m6 0h2m18 0h3m-47 1h2m5 0h6m3 0h2m2 0h2m7 0h2m4 0h3m1 0h3m2 0h2m9 0h2m-59 1h2m3 0h2m6 0h8m8 0h2m1 0h2m2 0h2m-30 1h2m1 0h7m2 0h3m11 0h2m1 0h2m1 0h2m2 0h3m-42 1h2m3 0h4m4 0h2m3 0h2m10 0h2m4 0h3m-38 1h2m7 0h5m3 0h2m14 0h2m-33 1h2m2 0h2m6 0h4m4 0h2m4 0h2m8 0h2m-42 1h2m9 0h6m1 0h4m7 0h2m1 0h2m-41 1h2m3 0h2m4 0h5m5 0h6m5 0h2m1 0h2m-33 1h2m2 0h2m2 0h3m4 0h2m1 0h2m10 0h3m1 0h2m2 0h2m-32 1h2m2 0h5m-9 1h2m4 0h2m8 0h2m6 0h2m-32 1h2m1 0h7m1 0h3m2 0h2m11 0h2m10 0h2m-45 1h6m1 0h8m14 0h5m12 0h2m-47 1h2m1 0h3m5 0h2m-15 2h2m4 0h8m-10 1h2m1 0h6m6 0h2m-18 1h2m3 0h2m2 0h4m-17 1h2m8 0h5m3 0h2m8 0h3m19 0h2m-51 1h9m3 0h2m-8 1h2m1 0h2m-12 1h3m1 0h4m1 0h2m-13 1h7m1 0h2m2 0h4m32 0h2m-48 1h11m-14 1h2m5 0h2m1 0h2m-9 1h7m1 0h2m4 0h2m-18 1h4m2 0h5m1 0h4m-13 1h5m-11 1h2m1 0h4m4 0h3m-9 1h8m-16 1h2m1 0h6m3 0h2m-7 1h2m2 0h2m-11 1h14m-14 1h7m4 0h2m-13 1h3m1 0h2m1 0h3m-11 1h11m14 0h2m-26 1h6m1 0h2m3 0h2m-20 1h2m5 0h4m2 0h5m-14 1h2m1 0h2m1 0h5m1 0h3m-18 1h11m1 0h2m-12 1h2m-2 1h7m7 0h2m-19 1h4m1 0h7m3 0h2m-16 1h4m1 0h4m-9 1h4m1 0h3m-8 1h4m1 0h4m-11 1h6m-8 2h6m1 0h2m-7 1h3m-5 2h3" stroke="#1a38f6" stroke-opacity="0.72" stroke-width="2" fill="none"/>
<text x="308.20" y="493.60" font-size="8.3" text-anchor="middle" fill="#222">0</text>
<text x="336.97" y="493.60" font-size="8.3" text-anchor="middle" fill="#222">0.1</text>
<text x="365.75" y="493.60" font-size="8.3" text-anchor="middle" fill="#222">0.2</text>
<text x="394.52" y="493.60" font-size="8.3" text-anchor="middle" fill="#222">0.3</text>
<text x="423.30" y="493.60" font-size="8.3" text-anchor="middle" fill="#222">0.4</text>
<text x="452.07" y="493.60" font-size="8.3" text-anchor="middle" fill="#222">0.5</text>
<text x="480.85" y="493.60" font-size="8.3" text-anchor="middle" fill="#222">0.6</text>
<text x="509.62" y="493.60" font-size="8.3" text-anchor="middle" fill="#222">0.7</text>
<text x="538.40" y="493.60" font-size="8.3" text-anchor="middle" fill="#222">0.8</text>
<text x="305.00" y="487.80" font-size="8.3" text-anchor="end" fill="#222">0</text>
<text x="305.00" y="462.18" font-size="8.3" text-anchor="end" fill="#222">0.1</text>
<text x="305.00" y="436.56" font-size="8.3" text-anchor="end" fill="#222">0.2</text>
<text x="305.00" y="410.93" font-size="8.3" text-anchor="end" fill="#222">0.3</text>
<text x="305.00" y="385.31" font-size="8.3" text-anchor="end" fill="#222">0.4</text>
<text x="305.00" y="359.69" font-size="8.3" text-anchor="end" fill="#222">0.5</text>
<text x="305.00" y="334.07" font-size="8.3" text-anchor="end" fill="#222">0.6</text>
<text x="305.00" y="308.44" font-size="8.3" text-anchor="end" fill="#222">0.7</text>
<text x="305.00" y="282.82" font-size="8.3" text-anchor="end" fill="#222">0.8</text>
<text x="305.00" y="257.20" font-size="8.3" text-anchor="end" fill="#222">0.9</text>
<text x="421.80" y="505.60" font-size="7.9" text-anchor="middle" fill="#222">x position</text>
<text transform="translate(286.60,369.40) rotate(-90)" font-size="7.4" text-anchor="middle" textLength="35.4" lengthAdjust="spacingAndGlyphs" fill="#222">y position</text>
<text x="420.00" y="248.80" font-size="6.7" text-anchor="middle" fill="#222">CIE 1931 xy Gamut Mapping</text>
<rect x="198.8" y="256.6" width="56.69999999999999" height="11.099999999999966" fill="#fff" stroke="#8a9092" stroke-width="0.7"/>
<path d="M202.60000000000002 262.3h19.8" stroke="#f58ab6" stroke-width="0.8"/>
<circle cx="212.5" cy="262.3" r="1.5" fill="#fff" stroke="#f58ab6" stroke-width="0.6"/>
<text x="224.9" y="264.8" font-size="7" fill="#333">DISPLAY</text>
<rect x="479.1" y="256.5" width="56.89999999999998" height="18.899999999999977" fill="#fff" stroke="#a9b5b3" stroke-width="0.7"/>
<path d="M482.90000000000003 262.1h19.8" stroke="#f8a2ca" stroke-width="0.8"/>
<circle cx="492.8" cy="262.1" r="1.5" fill="#fff" stroke="#f8a2ca" stroke-width="0.6"/>
<text x="505.20000000000005" y="264.6" font-size="7" fill="#555">DISPLAY</text>
<path d="M482.90000000000003 270.4h19.8" stroke="#f8a2ca" stroke-width="0.8"/>
<circle cx="492.8" cy="270.4" r="1.5" fill="#fff" stroke="#f8a2ca" stroke-width="0.6"/>
<text x="505.20000000000005" y="272.9" font-size="7" fill="#555">TARGET</text>
</svg>
</body></html>
